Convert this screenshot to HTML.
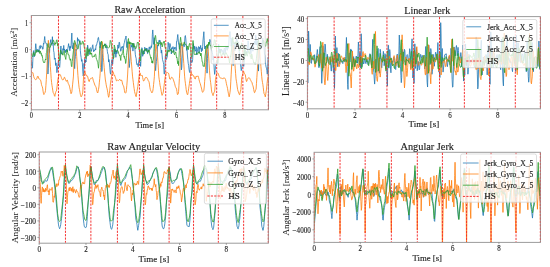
<!DOCTYPE html>
<html><head><meta charset="utf-8"><title>IMU signals</title>
<style>html,body{margin:0;padding:0;background:#fff;width:550px;height:267px;overflow:hidden}
svg{display:block;filter:blur(0.25px)} text{font-family:"Liberation Serif", "DejaVu Serif", serif;fill:#1e1e1e;stroke:#1e1e1e;stroke-width:0.15px}</style></head>
<body><svg width="550" height="267" viewBox="0 0 550 267">
<rect width="550" height="267" fill="#fff"/>
<clipPath id="cTL"><rect x="31.3" y="15.5" width="237.20" height="94.30"/></clipPath>
<g clip-path="url(#cTL)">
<polyline points="31.30,65.29 31.71,62.02 32.11,68.32 32.52,67.76 32.92,57.76 33.33,51.84 33.73,50.59 34.14,56.95 34.55,54.95 34.95,53.85 35.36,48.81 35.76,43.69 36.17,48.07 36.57,50.73 36.98,51.88 37.39,49.23 37.79,49.72 38.20,52.17 38.60,49.75 39.01,52.11 39.41,46.63 39.82,45.81 40.23,45.48 40.63,48.50 41.04,45.75 41.44,46.39 41.85,46.45 42.25,46.69 42.66,49.27 43.06,49.12 43.47,43.35 43.88,44.13 44.28,40.44 44.69,36.50 45.09,40.82 45.50,42.67 45.90,43.42 46.31,43.24 46.72,44.74 47.12,46.35 47.53,59.27 47.93,74.02 48.34,68.15 48.74,54.91 49.15,48.78 49.56,52.60 49.96,43.33 50.37,42.35 50.77,39.67 51.18,43.84 51.58,44.53 51.99,45.41 52.40,36.69 52.80,43.86 53.21,43.27 53.61,50.83 54.02,52.52 54.42,59.35 54.83,58.69 55.24,57.99 55.64,65.43 56.05,62.87 56.45,66.70 56.86,72.65 57.26,70.79 57.67,66.99 58.08,63.33 58.48,59.86 58.89,63.78 59.29,65.86 59.70,67.33 60.10,61.76 60.51,52.03 60.91,45.98 61.31,53.91 61.72,53.10 62.12,53.83 62.53,53.62 62.93,48.58 63.34,50.24 63.74,45.41 64.15,50.55 64.55,48.98 64.96,50.97 65.36,52.68 65.77,50.03 66.17,51.62 66.58,49.12 66.98,50.05 67.39,51.81 67.79,48.50 68.20,46.43 68.60,43.64 69.01,47.13 69.41,46.64 69.81,50.72 70.22,46.18 70.62,48.19 71.03,47.05 71.43,39.01 71.84,33.04 72.24,44.52 72.65,48.93 73.05,46.48 73.46,45.36 73.86,42.88 74.27,61.48 74.67,68.63 75.08,59.53 75.48,56.27 75.89,49.12 76.29,50.54 76.70,49.87 77.10,48.23 77.51,37.65 77.91,41.15 78.31,39.62 78.72,39.21 79.12,40.57 79.53,42.34 79.93,40.61 80.34,50.40 80.74,54.92 81.15,57.49 81.55,61.30 81.96,59.61 82.36,62.79 82.77,71.10 83.17,75.86 83.58,74.24 83.98,63.45 84.39,68.13 84.79,58.89 85.19,62.84 85.60,60.03 86.00,62.03 86.41,57.31 86.81,56.37 87.21,50.72 87.62,45.11 88.02,47.40 88.42,51.21 88.83,52.72 89.23,54.54 89.63,50.08 90.04,47.96 90.44,47.68 90.85,48.59 91.25,51.49 91.65,49.45 92.06,48.98 92.46,45.60 92.86,44.75 93.27,49.99 93.67,51.75 94.07,49.83 94.48,50.66 94.88,50.53 95.29,48.63 95.69,50.02 96.09,45.14 96.50,45.31 96.90,43.74 97.30,42.08 97.71,40.49 98.11,37.71 98.51,37.39 98.92,40.66 99.32,41.70 99.73,45.53 100.13,48.00 100.53,42.41 100.94,51.27 101.34,60.88 101.74,71.58 102.15,69.91 102.55,53.76 102.95,46.14 103.36,46.15 103.76,46.06 104.17,45.33 104.57,45.79 104.97,44.06 105.38,44.65 105.78,43.80 106.18,48.12 106.59,46.68 106.99,48.50 107.39,51.41 107.80,53.99 108.20,54.66 108.61,62.02 109.01,59.56 109.41,63.12 109.82,67.84 110.22,72.71 110.62,74.23 111.03,69.48 111.43,63.24 111.83,59.80 112.24,59.33 112.64,64.22 113.05,59.88 113.46,58.32 113.86,52.27 114.27,48.86 114.67,53.91 115.08,48.94 115.48,52.06 115.89,57.34 116.30,50.40 116.70,53.80 117.11,53.14 117.51,50.00 117.92,44.92 118.32,48.31 118.73,46.47 119.14,42.10 119.54,42.45 119.95,47.04 120.35,48.43 120.76,51.29 121.16,49.94 121.57,46.91 121.97,46.92 122.38,47.61 122.79,46.19 123.19,50.05 123.60,47.32 124.00,43.83 124.41,42.64 124.81,40.22 125.22,38.97 125.63,37.73 126.03,36.00 126.44,43.12 126.84,47.66 127.25,41.73 127.65,42.17 128.06,45.35 128.47,56.85 128.87,60.67 129.28,67.56 129.68,63.54 130.09,57.03 130.49,49.79 130.90,45.01 131.31,45.43 131.71,47.18 132.12,44.76 132.52,43.23 132.93,51.08 133.33,44.43 133.74,43.49 134.15,45.36 134.55,45.61 134.96,49.96 135.36,54.79 135.77,57.08 136.17,58.39 136.58,63.79 136.99,64.71 137.39,63.87 137.80,63.75 138.20,66.72 138.61,61.95 139.01,60.14 139.42,57.72 139.82,62.63 140.23,62.06 140.63,66.38 141.04,58.88 141.44,51.99 141.85,47.70 142.25,48.61 142.66,56.30 143.06,54.66 143.47,50.82 143.87,52.82 144.28,54.03 144.68,47.22 145.09,47.98 145.49,48.76 145.90,51.08 146.30,48.02 146.71,50.66 147.11,48.44 147.51,53.63 147.92,53.31 148.32,49.99 148.73,50.84 149.13,46.83 149.54,47.16 149.94,49.50 150.35,47.65 150.75,48.24 151.16,45.78 151.56,47.51 151.97,43.14 152.37,34.39 152.78,29.94 153.18,36.39 153.59,44.35 153.99,42.46 154.40,37.72 154.80,51.57 155.21,63.78 155.61,70.66 156.02,65.24 156.42,61.60 156.82,56.90 157.23,52.28 157.63,45.12 158.04,46.15 158.44,42.99 158.85,41.00 159.25,39.97 159.66,41.98 160.06,40.42 160.47,46.68 160.87,49.16 161.28,53.14 161.68,50.17 162.09,55.05 162.49,59.53 162.90,60.94 163.30,62.35 163.71,64.37 164.11,74.08 164.52,73.95 164.92,67.40 165.32,55.96 165.73,54.64 166.13,59.69 166.53,59.20 166.93,57.72 167.34,56.83 167.74,50.74 168.14,42.27 168.54,45.34 168.94,47.31 169.34,49.71 169.74,43.54 170.15,43.62 170.55,46.74 170.95,47.73 171.35,54.00 171.75,47.91 172.15,48.85 172.55,47.23 172.96,46.58 173.36,49.55 173.76,52.39 174.16,47.20 174.56,48.86 174.96,47.77 175.36,47.81 175.77,47.43 176.17,50.70 176.57,41.43 176.97,41.57 177.37,37.86 177.77,34.50 178.18,38.81 178.58,44.20 178.98,45.67 179.38,49.10 179.78,47.16 180.18,43.45 180.58,53.86 180.99,57.63 181.39,69.89 181.79,67.31 182.19,58.17 182.59,49.12 182.99,46.30 183.39,45.31 183.80,44.34 184.20,46.75 184.60,42.01 185.00,36.30 185.40,35.55 185.80,38.89 186.20,44.22 186.61,50.34 187.01,48.50 187.41,55.03 187.81,59.22 188.21,63.22 188.61,65.35 189.02,69.21 189.42,71.52 189.82,72.59 190.22,66.81 190.62,56.89 191.02,59.69 191.42,62.58 191.82,62.32 192.23,62.34 192.63,59.71 193.03,50.28 193.43,43.62 193.83,47.81 194.23,49.26 194.63,46.15 195.03,51.37 195.43,50.27 195.83,50.82 196.23,46.78 196.64,54.97 197.04,52.69 197.44,51.39 197.84,48.10 198.24,47.53 198.64,46.49 199.04,52.89 199.44,47.24 199.84,48.60 200.24,48.78 200.64,45.40 201.04,48.59 201.45,51.76 201.85,48.20 202.25,50.60 202.65,46.44 203.05,39.99 203.45,35.93 203.85,31.72 204.25,40.75 204.65,48.89 205.05,48.16 205.45,46.04 205.86,49.04 206.26,52.45 206.66,62.70 207.06,73.17 207.46,58.30 207.86,49.85 208.26,44.93 208.66,44.30 209.06,42.23 209.46,42.42 209.86,39.36 210.26,40.85 210.67,40.93 211.07,43.35 211.47,50.50 211.87,50.23 212.27,52.38 212.67,54.25 213.07,60.09 213.47,55.95 213.87,62.41 214.27,69.92 214.67,74.41 215.08,71.18 215.48,67.03 215.88,65.81 216.28,62.31 216.68,63.04 217.08,60.86 217.48,64.00 217.89,62.48 218.29,53.26 218.69,44.25 219.10,49.29 219.50,52.75 219.90,53.20 220.31,48.94 220.71,52.71 221.11,50.77 221.51,48.96 221.92,51.06 222.32,51.24 222.72,50.57 223.13,54.64 223.53,53.13 223.93,49.91 224.33,48.17 224.74,49.52 225.14,53.44 225.54,49.93 225.95,46.04 226.35,46.42 226.75,48.49 227.15,50.32 227.56,45.92 227.96,47.60 228.36,48.25 228.77,44.79 229.17,36.27 229.57,35.76 229.97,31.56 230.38,37.59 230.78,39.24 231.18,46.18 231.59,44.56 231.99,37.80 232.39,49.21 232.80,62.58 233.20,65.63 233.60,52.66 234.00,42.39 234.41,47.29 234.81,50.92 235.21,47.40 235.62,46.13 236.02,43.56 236.42,38.80 236.82,39.11 237.23,40.13 237.63,46.57 238.03,43.55 238.44,42.08 238.84,47.55 239.24,52.12 239.64,54.61 240.05,53.82 240.45,63.23 240.85,67.18 241.26,70.60 241.66,69.07 242.06,65.90 242.46,60.16 242.87,60.19 243.27,62.45 243.67,66.41 244.07,64.04 244.47,55.68 244.87,48.15 245.27,52.80 245.67,53.08 246.07,51.75 246.47,54.76 246.87,51.50 247.27,52.69 247.67,45.78 248.07,40.92 248.47,42.43 248.88,48.92 249.28,47.97 249.68,49.93 250.08,50.29 250.48,47.76 250.88,53.86 251.28,48.51 251.68,49.79 252.08,46.34 252.48,49.13 252.88,51.26 253.28,48.49 253.68,45.07 254.08,44.03 254.48,41.31 254.88,42.68 255.28,44.51 255.68,35.06 256.08,37.77 256.48,45.10 256.89,43.92 257.29,40.62 257.69,43.19 258.09,58.35 258.49,71.08 258.89,60.41 259.29,58.33 259.69,45.57 260.09,49.08 260.49,49.44 260.89,42.95 261.29,45.48 261.69,48.04 262.09,44.55 262.49,39.70 262.89,38.23 263.29,44.21 263.69,45.38 264.09,47.69 264.49,54.04 264.90,55.44 265.30,59.81 265.70,64.72 266.10,67.12 266.50,68.13 266.90,70.79 267.30,74.20 267.70,66.90 268.10,57.43 268.50,59.52" fill="none" stroke="#1f77b4" stroke-width="0.8" stroke-linejoin="round"/>
<polyline points="31.30,72.78 31.71,72.67 32.11,72.78 32.52,72.63 32.92,72.70 33.33,74.90 33.73,76.60 34.14,77.82 34.55,78.53 34.95,79.26 35.36,79.62 35.76,79.50 36.17,79.44 36.57,79.12 36.98,78.13 37.39,76.55 37.79,75.98 38.20,76.55 38.60,78.15 39.01,78.90 39.41,78.95 39.82,79.51 40.23,79.90 40.63,80.23 41.04,81.95 41.44,84.41 41.85,85.86 42.25,86.66 42.66,88.15 43.06,91.15 43.47,93.53 43.88,94.55 44.28,93.65 44.69,93.15 45.09,92.38 45.50,90.41 45.90,85.40 46.31,79.47 46.72,72.12 47.12,63.84 47.53,55.39 47.93,47.83 48.34,40.34 48.74,44.68 49.15,49.43 49.56,54.77 49.96,60.85 50.37,66.59 50.77,72.18 51.18,78.53 51.58,82.46 51.99,85.38 52.40,87.80 52.80,90.65 53.21,92.67 53.61,93.32 54.02,93.97 54.42,95.61 54.83,96.34 55.24,94.37 55.64,92.36 56.05,91.37 56.45,90.96 56.86,88.09 57.26,84.78 57.67,81.47 58.08,78.25 58.48,76.98 58.89,75.57 59.29,74.42 59.70,74.54 60.10,74.42 60.51,75.10 60.91,76.30 61.31,77.39 61.72,78.61 62.12,79.32 62.53,79.91 62.93,79.94 63.34,79.69 63.74,78.92 64.15,77.44 64.55,77.24 64.96,78.23 65.36,79.29 65.77,80.35 66.17,81.30 66.58,81.20 66.98,80.21 67.39,80.18 67.79,81.74 68.20,83.36 68.60,84.20 69.01,84.87 69.41,86.16 69.81,87.86 70.22,89.69 70.62,91.69 71.03,93.73 71.43,93.14 71.84,91.93 72.24,88.13 72.65,84.20 73.05,80.15 73.46,76.09 73.86,63.04 74.27,51.63 74.67,47.31 75.08,42.86 75.48,45.68 75.89,47.93 76.29,50.66 76.70,56.56 77.10,62.97 77.51,69.14 77.91,75.36 78.31,79.88 78.72,84.23 79.12,87.79 79.53,89.71 79.93,92.19 80.34,94.34 80.74,95.79 81.15,96.83 81.55,96.10 81.96,95.47 82.36,94.05 82.77,92.14 83.17,85.39 83.58,76.06 83.98,74.34 84.39,72.89 84.79,71.32 85.19,72.57 85.60,73.88 86.00,74.75 86.41,75.16 86.81,76.19 87.21,76.11 87.62,76.30 88.02,78.07 88.42,79.68 88.83,81.08 89.23,81.61 89.63,80.03 90.04,79.11 90.44,78.80 90.85,78.30 91.25,78.37 91.65,78.20 92.06,77.66 92.46,77.56 92.86,78.78 93.27,80.41 93.67,81.68 94.07,82.73 94.48,83.99 94.88,85.07 95.29,85.86 95.69,86.51 96.09,87.36 96.50,89.16 96.90,91.11 97.30,92.40 97.71,93.01 98.11,91.60 98.51,89.48 98.92,86.93 99.32,82.79 99.73,78.64 100.13,73.72 100.53,67.59 100.94,59.05 101.34,50.53 101.74,44.56 102.15,41.60 102.55,46.98 102.95,52.48 103.36,57.68 103.76,62.50 104.17,67.32 104.57,71.90 104.97,76.07 105.38,80.01 105.78,82.14 106.18,84.67 106.59,86.94 106.99,88.35 107.39,90.16 107.80,92.72 108.20,95.33 108.61,97.30 109.01,96.26 109.41,93.25 109.82,90.07 110.22,85.74 110.62,82.11 111.03,79.89 111.43,76.88 111.83,75.42 112.24,72.04 112.64,71.15 113.05,71.51 113.46,72.98 113.86,74.33 114.27,75.67 114.67,75.25 115.08,76.59 115.48,77.70 115.89,78.90 116.30,80.67 116.70,80.73 117.11,80.49 117.51,80.02 117.92,80.21 118.32,80.54 118.73,80.35 119.14,80.04 119.54,79.51 119.95,79.33 120.35,80.31 120.76,80.63 121.16,80.06 121.57,80.00 121.97,81.10 122.38,82.89 122.79,84.68 123.19,85.42 123.60,86.12 124.00,87.95 124.41,90.35 124.81,92.59 125.22,93.16 125.63,92.90 126.03,92.51 126.44,89.44 126.84,85.29 127.25,80.04 127.65,74.06 128.06,66.17 128.47,58.94 128.87,49.62 129.28,43.25 129.68,46.98 130.09,49.87 130.49,52.22 130.90,56.84 131.31,61.45 131.71,66.06 132.12,71.19 132.52,76.14 132.93,79.34 133.33,82.53 133.74,85.88 134.15,88.66 134.55,91.49 134.96,93.14 135.36,94.45 135.77,96.03 136.17,96.70 136.58,94.09 136.99,91.52 137.39,88.99 137.80,86.41 138.20,83.11 138.61,79.75 139.01,77.05 139.42,73.86 139.82,73.38 140.23,73.04 140.63,75.56 141.04,75.46 141.44,75.41 141.85,75.00 142.25,75.55 142.66,77.57 143.06,79.48 143.47,81.00 143.87,80.72 144.28,80.47 144.68,79.46 145.09,77.97 145.49,77.49 145.90,77.60 146.30,77.49 146.71,77.44 147.11,78.12 147.51,78.85 147.92,79.74 148.32,80.83 148.73,81.27 149.13,82.30 149.54,84.86 149.94,87.72 150.35,89.58 150.75,90.70 151.16,91.38 151.56,92.41 151.97,92.93 152.37,92.16 152.78,91.22 153.18,88.40 153.59,84.54 153.99,80.67 154.40,76.30 154.80,65.43 155.21,54.68 155.61,48.13 156.02,43.94 156.42,47.02 156.82,49.60 157.23,52.06 157.63,57.76 158.04,63.75 158.44,70.27 158.85,76.87 159.25,79.69 159.66,82.51 160.06,85.26 160.47,87.27 160.87,89.19 161.28,91.68 161.68,93.94 162.09,95.38 162.49,94.60 162.90,93.46 163.30,92.08 163.71,88.78 164.11,85.31 164.52,82.20 164.92,78.62 165.32,76.05 165.73,75.78 166.13,72.88 166.53,72.62 166.93,72.90 167.34,72.68 167.74,72.74 168.14,73.14 168.54,73.20 168.94,74.84 169.34,77.00 169.74,79.04 170.15,79.37 170.55,79.29 170.95,78.28 171.35,77.38 171.75,77.24 172.15,77.40 172.55,77.90 172.96,78.70 173.36,79.70 173.76,80.95 174.16,82.14 174.56,83.36 174.96,85.08 175.36,86.62 175.77,87.52 176.17,88.02 176.57,89.20 176.97,91.60 177.37,94.49 177.77,94.52 178.18,93.98 178.58,91.65 178.98,85.35 179.38,78.58 179.78,72.12 180.18,65.26 180.58,57.67 180.99,50.13 181.39,43.34 181.79,42.72 182.19,45.70 182.59,48.44 182.99,51.99 183.39,57.95 183.80,63.68 184.20,69.78 184.60,76.16 185.00,80.30 185.40,83.27 185.80,86.29 186.20,89.61 186.61,92.44 187.01,93.62 187.41,94.78 187.81,94.39 188.21,91.59 188.61,88.76 189.02,86.07 189.42,83.50 189.82,80.62 190.22,78.06 190.62,76.16 191.02,72.21 191.42,73.27 191.82,73.66 192.23,74.18 192.63,74.96 193.03,75.79 193.43,75.87 193.83,75.88 194.23,77.16 194.63,78.42 195.03,79.02 195.43,78.86 195.83,76.97 196.23,76.02 196.64,76.38 197.04,76.89 197.44,76.22 197.84,75.84 198.24,76.27 198.64,77.68 199.04,79.57 199.44,81.22 199.84,82.63 200.24,83.59 200.64,85.02 201.04,86.64 201.45,88.04 201.85,89.90 202.25,91.66 202.65,92.36 203.05,91.74 203.45,91.06 203.85,90.35 204.25,87.06 204.65,81.40 205.05,76.66 205.45,69.57 205.86,61.56 206.26,54.25 206.66,49.82 207.06,46.59 207.46,45.17 207.86,48.32 208.26,51.45 208.66,56.90 209.06,63.47 209.46,70.16 209.86,75.73 210.26,79.72 210.67,82.67 211.07,86.09 211.47,89.92 211.87,92.73 212.27,93.36 212.67,94.74 213.07,95.64 213.47,94.17 213.87,92.81 214.27,92.03 214.67,91.31 215.08,86.84 215.48,79.43 215.88,77.12 216.28,75.38 216.68,73.61 217.08,73.02 217.48,72.89 217.89,73.20 218.29,73.40 218.69,74.90 219.10,76.31 219.50,76.77 219.90,77.47 220.31,78.05 220.71,78.18 221.11,78.02 221.51,78.29 221.92,78.49 222.32,78.62 222.72,78.61 223.13,78.80 223.53,78.36 223.93,77.69 224.33,78.10 224.74,78.39 225.14,78.47 225.54,79.53 225.95,81.25 226.35,83.42 226.75,85.32 227.15,86.68 227.56,88.48 227.96,91.10 228.36,93.30 228.77,94.94 229.17,96.84 229.57,94.85 229.97,92.57 230.38,89.10 230.78,81.82 231.18,74.22 231.59,66.99 231.99,60.10 232.39,53.30 232.80,48.79 233.20,45.28 233.60,45.93 234.00,51.39 234.41,56.83 234.81,62.36 235.21,68.18 235.62,73.63 236.02,78.81 236.42,81.26 236.82,83.76 237.23,86.95 237.63,89.51 238.03,91.08 238.44,92.05 238.84,93.21 239.24,94.45 239.64,94.80 240.05,92.88 240.45,91.23 240.85,89.62 241.26,84.71 241.66,77.44 242.06,76.37 242.46,75.33 242.87,73.79 243.27,72.20 243.67,71.29 244.07,72.59 244.47,73.92 244.87,74.40 245.27,74.70 245.67,77.13 246.07,79.89 246.47,81.54 246.87,81.22 247.27,79.37 247.67,78.61 248.07,78.38 248.47,78.01 248.88,77.98 249.28,77.76 249.68,78.19 250.08,79.29 250.48,79.94 250.88,80.63 251.28,81.50 251.68,82.03 252.08,82.82 252.48,84.73 252.88,85.64 253.28,86.98 253.68,89.30 254.08,91.42 254.48,92.71 254.88,92.34 255.28,90.89 255.68,89.82 256.08,89.13 256.48,83.37 256.89,77.32 257.29,71.19 257.69,64.77 258.09,58.08 258.49,50.74 258.89,42.33 259.29,45.91 259.69,51.02 260.09,56.12 260.49,61.45 260.89,66.47 261.29,71.30 261.69,76.27 262.09,79.96 262.49,82.49 262.89,84.65 263.29,87.73 263.69,91.52 264.09,93.63 264.49,94.14 264.90,95.46 265.30,96.84 265.70,94.47 266.10,91.74 266.50,89.08 266.90,85.15 267.30,81.28 267.70,78.46 268.10,76.69 268.50,72.27" fill="none" stroke="#ff7f0e" stroke-width="0.8" stroke-linejoin="round"/>
<polyline points="31.30,52.95 31.71,53.42 32.11,55.92 32.52,56.65 32.92,55.84 33.33,54.01 33.73,52.33 34.14,53.69 34.55,55.30 34.95,55.77 35.36,52.94 35.76,51.48 36.17,49.90 36.57,52.43 36.98,51.33 37.39,51.09 37.79,50.50 38.20,51.31 38.60,51.67 39.01,50.48 39.41,51.69 39.82,53.54 40.23,50.94 40.63,51.76 41.04,54.22 41.44,53.51 41.85,56.12 42.25,55.60 42.66,58.56 43.06,60.91 43.47,61.93 43.88,62.82 44.28,62.17 44.69,62.59 45.09,60.43 45.50,59.12 45.90,59.98 46.31,53.32 46.72,52.79 47.12,48.06 47.53,44.56 47.93,43.55 48.34,45.50 48.74,46.89 49.15,47.92 49.56,48.00 49.96,47.71 50.37,47.32 50.77,44.34 51.18,44.64 51.58,42.94 51.99,43.47 52.40,42.46 52.80,41.77 53.21,40.07 53.61,40.26 54.02,42.13 54.42,44.46 54.83,45.33 55.24,42.73 55.64,44.05 56.05,43.30 56.45,40.25 56.86,39.74 57.26,41.67 57.67,45.76 58.08,43.79 58.48,51.52 58.89,55.88 59.29,61.10 59.70,60.05 60.10,54.35 60.51,50.08 60.91,50.38 61.31,51.85 61.72,53.73 62.12,54.55 62.53,53.83 62.93,55.19 63.34,52.73 63.74,52.19 64.15,50.80 64.55,53.87 64.96,56.73 65.36,57.56 65.77,59.43 66.17,54.97 66.58,52.62 66.98,50.02 67.39,50.95 67.79,52.83 68.20,54.77 68.60,54.78 69.01,54.79 69.41,58.54 69.81,59.04 70.22,60.30 70.62,58.77 71.03,61.92 71.43,66.21 71.84,66.77 72.24,61.64 72.65,58.13 73.05,54.09 73.46,50.32 73.86,45.38 74.27,42.03 74.67,40.45 75.08,41.85 75.48,43.35 75.89,44.29 76.29,45.66 76.70,45.45 77.10,47.75 77.51,48.51 77.91,49.08 78.31,48.61 78.72,44.38 79.12,44.62 79.53,41.11 79.93,41.33 80.34,44.26 80.74,43.89 81.15,43.53 81.55,44.19 81.96,44.23 82.36,41.27 82.77,41.45 83.17,41.59 83.58,44.05 83.98,45.03 84.39,48.08 84.79,48.36 85.19,52.41 85.60,57.98 86.00,58.51 86.41,55.94 86.81,51.09 87.21,47.47 87.62,55.20 88.02,56.03 88.42,52.85 88.83,49.37 89.23,51.40 89.63,49.86 90.04,49.48 90.44,54.22 90.85,52.68 91.25,54.26 91.65,53.28 92.06,55.89 92.46,57.20 92.86,56.91 93.27,56.61 93.67,56.74 94.07,55.77 94.48,56.53 94.88,54.51 95.29,54.26 95.69,54.21 96.09,57.23 96.50,59.35 96.90,59.74 97.30,61.30 97.71,62.30 98.11,64.89 98.51,68.23 98.92,63.58 99.32,55.89 99.73,48.05 100.13,45.99 100.53,45.30 100.94,44.72 101.34,41.06 101.74,42.89 102.15,44.42 102.55,46.88 102.95,48.66 103.36,45.77 103.76,45.22 104.17,45.90 104.57,43.90 104.97,43.93 105.38,47.58 105.78,45.30 106.18,45.72 106.59,45.79 106.99,45.43 107.39,47.53 107.80,47.72 108.20,48.02 108.61,47.87 109.01,47.26 109.41,47.14 109.82,44.56 110.22,40.47 110.62,41.18 111.03,41.51 111.43,44.71 111.83,49.20 112.24,51.80 112.64,54.02 113.05,57.39 113.46,58.60 113.86,57.42 114.27,45.04 114.67,46.51 115.08,48.16 115.48,51.67 115.89,50.87 116.30,51.13 116.70,51.29 117.11,51.02 117.51,50.37 117.92,50.77 118.32,51.99 118.73,53.79 119.14,54.48 119.54,55.79 119.95,55.22 120.35,57.64 120.76,60.53 121.16,55.10 121.57,54.81 121.97,55.00 122.38,52.52 122.79,52.04 123.19,49.88 123.60,53.22 124.00,57.23 124.41,56.36 124.81,58.99 125.22,59.05 125.63,63.49 126.03,61.75 126.44,55.56 126.84,52.27 127.25,49.23 127.65,47.19 128.06,40.02 128.47,38.50 128.87,43.61 129.28,41.64 129.68,44.01 130.09,41.96 130.49,44.08 130.90,44.65 131.31,42.80 131.71,43.17 132.12,44.33 132.52,43.52 132.93,45.62 133.33,47.34 133.74,43.35 134.15,46.06 134.55,46.86 134.96,46.19 135.36,48.69 135.77,48.80 136.17,47.84 136.58,46.98 136.99,44.69 137.39,42.17 137.80,42.59 138.20,42.12 138.61,43.90 139.01,49.53 139.42,49.05 139.82,58.15 140.23,61.06 140.63,55.30 141.04,49.95 141.44,48.87 141.85,49.50 142.25,52.29 142.66,52.80 143.06,54.33 143.47,54.11 143.87,51.00 144.28,50.23 144.68,51.13 145.09,48.82 145.49,49.94 145.90,49.64 146.30,49.16 146.71,51.29 147.11,52.09 147.51,52.47 147.92,50.82 148.32,50.41 148.73,51.94 149.13,49.79 149.54,53.43 149.94,54.94 150.35,56.17 150.75,58.34 151.16,57.29 151.56,60.61 151.97,63.03 152.37,60.86 152.78,63.24 153.18,60.14 153.59,58.09 153.99,48.64 154.40,44.08 154.80,40.01 155.21,35.56 155.61,35.50 156.02,39.72 156.42,41.26 156.82,43.71 157.23,43.71 157.63,42.36 158.04,43.76 158.44,45.51 158.85,43.23 159.25,43.32 159.66,43.58 160.06,41.75 160.47,42.39 160.87,44.66 161.28,44.76 161.68,42.48 162.09,47.01 162.49,46.25 162.90,44.02 163.30,42.34 163.71,42.73 164.11,41.01 164.52,43.80 164.92,46.78 165.32,48.23 165.73,47.52 166.13,51.39 166.53,56.20 166.93,54.64 167.34,53.19 167.74,50.55 168.14,50.53 168.54,49.89 168.94,52.10 169.34,50.38 169.74,50.32 170.15,51.04 170.55,49.28 170.95,49.78 171.35,50.67 171.75,50.42 172.15,52.71 172.55,51.41 172.96,50.82 173.36,51.05 173.76,50.70 174.16,53.89 174.56,54.81 174.96,52.94 175.36,52.71 175.77,51.86 176.17,54.94 176.57,58.00 176.97,57.47 177.37,61.01 177.77,63.79 178.18,61.26 178.58,65.62 178.98,57.91 179.38,50.20 179.78,42.85 180.18,41.15 180.58,37.27 180.99,40.31 181.39,44.98 181.79,45.60 182.19,45.10 182.59,45.29 182.99,44.72 183.39,43.88 183.80,44.16 184.20,41.96 184.60,43.20 185.00,44.02 185.40,44.53 185.80,44.21 186.20,45.27 186.61,46.04 187.01,48.87 187.41,47.34 187.81,45.96 188.21,49.72 188.61,48.14 189.02,45.36 189.42,43.79 189.82,43.27 190.22,46.58 190.62,46.99 191.02,54.75 191.42,57.32 191.82,56.95 192.23,52.90 192.63,46.45 193.03,40.47 193.43,45.89 193.83,49.36 194.23,54.16 194.63,54.62 195.03,54.87 195.43,54.16 195.83,54.50 196.23,53.72 196.64,52.96 197.04,53.77 197.44,54.24 197.84,54.23 198.24,52.20 198.64,52.53 199.04,51.63 199.44,51.94 199.84,53.72 200.24,53.15 200.64,55.97 201.04,53.11 201.45,55.63 201.85,59.34 202.25,62.07 202.65,62.11 203.05,66.12 203.45,66.32 203.85,65.74 204.25,66.55 204.65,62.25 205.05,55.90 205.45,53.12 205.86,48.98 206.26,47.30 206.66,45.13 207.06,45.36 207.46,48.40 207.86,44.27 208.26,45.58 208.66,42.17 209.06,44.48 209.46,42.11 209.86,44.20 210.26,45.83 210.67,45.17 211.07,45.96 211.47,49.39 211.87,46.39 212.27,47.72 212.67,46.12 213.07,44.91 213.47,44.13 213.87,45.31 214.27,40.09 214.67,39.73 215.08,40.01 215.48,42.77 215.88,45.79 216.28,47.22 216.68,52.69 217.08,56.92 217.48,61.27 217.89,62.95 218.29,55.97 218.69,53.70 219.10,51.34 219.50,49.02 219.90,49.94 220.31,51.54 220.71,53.66 221.11,55.98 221.51,56.18 221.92,55.03 222.32,54.33 222.72,53.36 223.13,52.93 223.53,53.20 223.93,53.17 224.33,54.65 224.74,55.75 225.14,53.53 225.54,53.58 225.95,53.20 226.35,52.82 226.75,54.22 227.15,55.31 227.56,55.19 227.96,56.14 228.36,58.19 228.77,58.35 229.17,60.66 229.57,63.07 229.97,59.85 230.38,55.86 230.78,56.75 231.18,52.90 231.59,49.05 231.99,43.79 232.39,40.86 232.80,37.23 233.20,40.56 233.60,42.65 234.00,43.80 234.41,42.82 234.81,43.43 235.21,43.56 235.62,41.93 236.02,44.21 236.42,44.50 236.82,41.99 237.23,41.54 237.63,41.27 238.03,43.65 238.44,43.56 238.84,45.99 239.24,47.20 239.64,51.00 240.05,48.53 240.45,48.00 240.85,48.51 241.26,46.10 241.66,42.89 242.06,44.06 242.46,46.99 242.87,44.50 243.27,56.13 243.67,61.87 244.07,58.80 244.47,52.66 244.87,46.10 245.27,51.45 245.67,56.20 246.07,53.26 246.47,51.76 246.87,54.74 247.27,56.19 247.67,54.12 248.07,53.08 248.47,51.61 248.88,50.50 249.28,51.82 249.68,53.93 250.08,54.48 250.48,57.03 250.88,57.51 251.28,58.92 251.68,54.03 252.08,55.07 252.48,57.63 252.88,59.42 253.28,60.30 253.68,63.01 254.08,63.40 254.48,63.60 254.88,62.21 255.28,64.23 255.68,63.13 256.08,61.24 256.48,58.27 256.89,54.14 257.29,50.85 257.69,45.21 258.09,42.80 258.49,40.14 258.89,43.56 259.29,47.03 259.69,49.95 260.09,49.12 260.49,46.32 260.89,45.43 261.29,46.91 261.69,46.68 262.09,46.59 262.49,45.28 262.89,43.84 263.29,40.32 263.69,40.74 264.09,43.01 264.49,44.46 264.90,44.73 265.30,46.46 265.70,46.24 266.10,41.99 266.50,42.16 266.90,41.13 267.30,38.52 267.70,41.24 268.10,44.80 268.50,51.06" fill="none" stroke="#2ca02c" stroke-width="0.8" stroke-linejoin="round"/>
</g>
<rect x="31.3" y="15.5" width="237.20" height="94.30" fill="none" stroke="#9c9c9c" stroke-width="1.0"/>
<line x1="31.50" y1="16.00" x2="31.50" y2="109.30" stroke="#f42a2a" stroke-width="1.0" stroke-dasharray="2.2,1.2" opacity="0.35"/>
<line x1="58.48" y1="16.00" x2="58.48" y2="109.30" stroke="#f42a2a" stroke-width="1.0" stroke-dasharray="2.2,1.2" opacity="0.95"/>
<line x1="84.79" y1="16.00" x2="84.79" y2="109.30" stroke="#f42a2a" stroke-width="1.0" stroke-dasharray="2.2,1.2" opacity="0.95"/>
<line x1="112.24" y1="16.00" x2="112.24" y2="109.30" stroke="#f42a2a" stroke-width="1.0" stroke-dasharray="2.2,1.2" opacity="0.95"/>
<line x1="139.42" y1="16.00" x2="139.42" y2="109.30" stroke="#f42a2a" stroke-width="1.0" stroke-dasharray="2.2,1.2" opacity="0.95"/>
<line x1="165.73" y1="16.00" x2="165.73" y2="109.30" stroke="#f42a2a" stroke-width="1.0" stroke-dasharray="2.2,1.2" opacity="0.95"/>
<line x1="191.02" y1="16.00" x2="191.02" y2="109.30" stroke="#f42a2a" stroke-width="1.0" stroke-dasharray="2.2,1.2" opacity="0.95"/>
<line x1="216.68" y1="16.00" x2="216.68" y2="109.30" stroke="#f42a2a" stroke-width="1.0" stroke-dasharray="2.2,1.2" opacity="0.95"/>
<line x1="242.87" y1="16.00" x2="242.87" y2="109.30" stroke="#f42a2a" stroke-width="1.0" stroke-dasharray="2.2,1.2" opacity="0.95"/>
<line x1="268.20" y1="16.00" x2="268.20" y2="109.30" stroke="#f42a2a" stroke-width="1.0" stroke-dasharray="2.2,1.2" opacity="0.55"/>
<line x1="29.50" y1="22.70" x2="31.30" y2="22.70" stroke="#666" stroke-width="0.55"/>
<text x="24.95" y="25.60" font-size="7.3" text-anchor="start" textLength="3.15" lengthAdjust="spacingAndGlyphs">1</text>
<line x1="29.50" y1="49.60" x2="31.30" y2="49.60" stroke="#666" stroke-width="0.55"/>
<text x="24.95" y="52.50" font-size="7.3" text-anchor="start" textLength="3.15" lengthAdjust="spacingAndGlyphs">0</text>
<line x1="29.50" y1="76.50" x2="31.30" y2="76.50" stroke="#666" stroke-width="0.55"/>
<text x="20.95" y="79.40" font-size="7.3" text-anchor="start" textLength="7.15" lengthAdjust="spacingAndGlyphs">−1</text>
<line x1="29.50" y1="103.40" x2="31.30" y2="103.40" stroke="#666" stroke-width="0.55"/>
<text x="20.95" y="106.30" font-size="7.3" text-anchor="start" textLength="7.15" lengthAdjust="spacingAndGlyphs">−2</text>
<line x1="31.30" y1="109.80" x2="31.30" y2="111.60" stroke="#666" stroke-width="0.55"/>
<text x="29.73" y="118.40" font-size="7.3" text-anchor="start" textLength="3.15" lengthAdjust="spacingAndGlyphs">0</text>
<line x1="79.71" y1="109.80" x2="79.71" y2="111.60" stroke="#666" stroke-width="0.55"/>
<text x="78.13" y="118.40" font-size="7.3" text-anchor="start" textLength="3.15" lengthAdjust="spacingAndGlyphs">2</text>
<line x1="128.12" y1="109.80" x2="128.12" y2="111.60" stroke="#666" stroke-width="0.55"/>
<text x="126.54" y="118.40" font-size="7.3" text-anchor="start" textLength="3.15" lengthAdjust="spacingAndGlyphs">4</text>
<line x1="176.52" y1="109.80" x2="176.52" y2="111.60" stroke="#666" stroke-width="0.55"/>
<text x="174.95" y="118.40" font-size="7.3" text-anchor="start" textLength="3.15" lengthAdjust="spacingAndGlyphs">6</text>
<line x1="224.93" y1="109.80" x2="224.93" y2="111.60" stroke="#666" stroke-width="0.55"/>
<text x="223.36" y="118.40" font-size="7.3" text-anchor="start" textLength="3.15" lengthAdjust="spacingAndGlyphs">8</text>
<text x="114.5" y="13.1" font-size="10" text-anchor="start" textLength="70.6" lengthAdjust="spacingAndGlyphs">Raw Acceleration</text>
<text x="135.4" y="128.0" font-size="9.0" text-anchor="start" textLength="28.6" lengthAdjust="spacingAndGlyphs">Time [s]</text>
<text transform="translate(17.4,96.5) rotate(-90)" font-size="9.0" textLength="68.8" lengthAdjust="spacingAndGlyphs" style="stroke-width:0.05px">Acceleration [m/s<tspan font-size="70%" dy="-3">2</tspan><tspan dy="3">]</tspan></text>
<rect x="211.2" y="18.9" width="54.00" height="45.10" rx="1.8" fill="#fff" fill-opacity="0.8" stroke="#d0d0d0" stroke-width="0.7"/>
<line x1="213.9" y1="25.3" x2="228.7" y2="25.3" stroke="#1f77b4" stroke-width="0.9" opacity="0.85"/>
<text x="234.8" y="28.20" font-size="7.2" text-anchor="start" textLength="27" lengthAdjust="spacingAndGlyphs">Acc_X_5</text>
<line x1="213.9" y1="35.9" x2="228.7" y2="35.9" stroke="#ff7f0e" stroke-width="0.9" opacity="0.85"/>
<text x="234.8" y="38.80" font-size="7.2" text-anchor="start" textLength="27" lengthAdjust="spacingAndGlyphs">Acc_Y_5</text>
<line x1="213.9" y1="46.5" x2="228.7" y2="46.5" stroke="#2ca02c" stroke-width="0.9" opacity="0.85"/>
<text x="234.8" y="49.40" font-size="7.2" text-anchor="start" textLength="27" lengthAdjust="spacingAndGlyphs">Acc_Z_5</text>
<line x1="213.9" y1="57.2" x2="228.7" y2="57.2" stroke="#f42a2a" stroke-width="1.0" stroke-dasharray="2.2,1.2" opacity="0.95"/>
<text x="234.8" y="60.10" font-size="7.2" text-anchor="start" textLength="10" lengthAdjust="spacingAndGlyphs">HS</text>
<clipPath id="cTR"><rect x="307.4" y="16.6" width="233.10" height="92.20"/></clipPath>
<g clip-path="url(#cTR)">
<polyline points="307.40,66.76 307.80,83.03 308.20,55.25 308.60,31.09 308.99,42.25 309.39,60.67 309.79,53.74 310.19,44.43 310.59,51.53 310.99,63.02 311.39,63.43 311.79,59.83 312.18,57.98 312.58,58.27 312.98,58.71 313.38,60.26 313.78,59.70 314.18,57.29 314.58,54.69 314.97,58.39 315.37,62.00 315.77,62.97 316.17,62.33 316.57,57.37 316.97,52.50 317.37,49.49 317.77,54.23 318.16,59.77 318.56,65.15 318.96,67.78 319.36,59.33 319.76,48.57 320.16,46.50 320.56,58.07 320.96,63.20 321.35,69.91 321.75,83.30 322.15,75.02 322.55,60.97 322.95,45.76 323.35,53.37 323.75,68.11 324.14,60.90 324.54,52.86 324.94,43.97 325.34,44.75 325.74,52.79 326.14,59.79 326.54,61.53 326.94,57.13 327.33,54.25 327.73,57.69 328.13,61.41 328.53,63.50 328.93,63.11 329.33,60.36 329.73,57.44 330.12,56.61 330.52,60.84 330.92,68.10 331.32,71.11 331.72,64.37 332.12,62.27 332.52,58.07 332.92,59.18 333.31,70.78 333.71,72.59 334.11,67.21 334.51,88.40 334.91,68.36 335.30,35.99 335.70,47.57 336.10,62.80 336.50,54.29 336.90,47.62 337.29,54.05 337.69,66.74 338.09,59.52 338.49,53.42 338.88,54.99 339.28,60.36 339.68,64.30 340.08,61.99 340.48,58.87 340.87,59.06 341.27,60.05 341.67,61.36 342.07,61.88 342.46,62.97 342.86,63.64 343.26,60.79 343.66,57.91 344.06,60.42 344.45,61.73 344.85,60.00 345.25,60.66 345.65,56.46 346.04,48.19 346.44,37.44 346.84,51.18 347.24,71.74 347.64,84.62 348.03,89.43 348.43,72.15 348.83,55.63 349.23,52.88 349.62,60.90 350.02,61.82 350.42,51.60 350.82,48.94 351.22,51.14 351.61,50.02 352.01,53.21 352.41,64.43 352.81,66.78 353.20,60.51 353.60,56.59 354.00,59.60 354.40,63.11 354.80,66.06 355.19,64.60 355.59,60.09 355.99,56.71 356.39,56.00 356.78,58.20 357.18,60.16 357.58,63.23 357.98,53.89 358.38,41.98 358.77,46.91 359.17,60.61 359.57,61.82 359.97,52.67 360.36,67.92 360.76,52.88 361.16,33.74 361.55,41.46 361.95,66.83 362.35,62.22 362.74,57.88 363.14,59.48 363.54,64.04 363.93,63.49 364.33,60.68 364.73,58.77 365.12,58.17 365.52,62.88 365.92,63.66 366.31,60.82 366.71,59.77 367.11,58.95 367.50,61.92 367.90,64.34 368.30,64.82 368.69,63.60 369.09,58.59 369.49,55.08 369.88,53.73 370.28,54.93 370.68,58.91 371.07,62.26 371.47,65.24 371.87,63.69 372.26,53.12 372.66,39.39 373.06,55.04 373.45,69.01 373.85,72.33 374.25,79.08 374.64,84.08 375.04,78.18 375.44,68.63 375.83,59.12 376.23,65.49 376.63,72.36 377.02,63.26 377.42,53.75 377.82,49.30 378.21,48.46 378.61,57.38 379.01,66.20 379.40,73.22 379.80,61.53 380.20,49.28 380.59,52.22 380.99,58.96 381.39,66.04 381.78,67.78 382.18,63.19 382.58,59.11 382.97,56.07 383.37,51.32 383.77,55.25 384.16,65.71 384.56,63.05 384.96,53.67 385.35,54.66 385.75,62.30 386.15,68.51 386.54,67.87 386.94,73.04 387.34,86.10 387.74,64.81 388.14,45.41 388.53,45.23 388.93,68.15 389.33,57.83 389.73,49.57 390.13,53.12 390.53,69.09 390.93,72.80 391.32,65.22 391.72,60.95 392.12,61.16 392.52,62.45 392.92,61.52 393.32,58.62 393.72,57.28 394.12,57.35 394.51,60.59 394.91,63.61 395.31,68.33 395.71,69.55 396.11,64.34 396.51,58.80 396.91,55.40 397.31,54.10 397.70,59.88 398.10,66.92 398.50,66.72 398.90,51.88 399.30,35.02 399.70,45.78 400.10,58.43 400.49,66.74 400.89,75.39 401.29,82.67 401.69,77.36 402.09,53.52 402.49,49.34 402.89,55.69 403.29,63.76 403.68,61.47 404.08,56.38 404.48,49.35 404.88,50.73 405.28,60.27 405.68,62.88 406.08,65.29 406.47,60.46 406.87,55.00 407.27,54.57 407.67,55.49 408.07,59.31 408.47,62.27 408.87,59.86 409.27,54.79 409.66,48.69 410.06,50.66 410.46,62.03 410.86,68.61 411.26,59.84 411.66,48.01 412.06,38.81 412.45,56.05 412.85,77.97 413.25,73.57 413.65,68.98 414.05,83.35 414.45,59.95 414.84,43.83 415.24,58.39 415.64,68.51 416.04,59.23 416.44,47.58 416.83,54.34 417.23,70.70 417.63,67.29 418.03,61.27 418.42,62.03 418.82,67.19 419.22,69.88 419.62,68.99 420.02,61.56 420.41,54.58 420.81,54.43 421.21,57.16 421.61,57.68 422.00,56.47 422.40,55.42 422.80,57.63 423.20,61.01 423.60,61.02 423.99,61.63 424.39,64.63 424.79,68.91 425.19,58.84 425.58,47.00 425.98,46.33 426.38,59.42 426.78,72.95 427.17,82.64 427.57,87.03 427.97,70.76 428.37,51.85 428.77,44.94 429.16,50.40 429.56,58.17 429.96,64.72 430.36,60.47 430.75,48.54 431.15,51.25 431.55,61.85 431.95,74.29 432.35,71.57 432.74,63.71 433.14,54.29 433.54,56.89 433.94,63.40 434.33,66.26 434.73,61.06 435.13,56.68 435.53,52.18 435.93,52.67 436.32,58.06 436.72,58.14 437.12,59.84 437.52,50.20 437.91,42.55 438.31,58.64 438.71,71.94 439.11,71.84 439.51,72.43 439.90,77.55 440.29,52.77 440.69,22.66 441.08,35.05 441.48,64.16 441.87,55.40 442.27,48.50 442.66,64.02 443.06,72.12 443.45,69.06 443.85,64.71 444.24,58.05 444.63,54.89 445.03,54.36 445.42,54.20 445.82,54.67 446.21,53.74 446.61,59.69 447.00,64.71 447.40,66.66 447.79,63.25 448.19,60.41 448.58,60.01 448.97,56.25 449.37,56.51 449.76,59.27 450.16,64.83 450.55,60.47 450.95,48.37 451.34,50.66 451.74,66.35 452.13,79.46 452.53,87.22 452.92,86.73 453.31,73.83 453.71,59.94 454.10,46.93 454.50,51.08 454.89,56.10 455.29,55.07 455.68,51.07 456.08,47.20 456.47,45.51 456.87,50.18 457.26,55.73 457.65,50.23 458.05,47.34 458.44,50.59 458.84,56.00 459.23,59.68 459.63,60.37 460.02,59.39 460.42,56.63 460.81,52.58 461.21,56.88 461.60,66.86 461.99,64.48 462.39,53.87 462.78,45.01 463.18,61.52 463.57,81.06 463.97,72.40 464.36,62.83 464.76,75.32 465.15,59.04 465.54,43.99 465.94,54.67 466.33,66.39 466.73,59.87 467.12,51.45 467.51,60.90 467.91,74.18 468.30,69.63 468.70,62.52 469.09,54.52 469.48,57.27 469.88,63.27 470.27,61.60 470.67,59.90 471.06,61.46 471.45,61.27 471.85,61.15 472.24,62.28 472.63,60.89 473.03,58.48 473.42,59.73 473.82,62.74 474.21,66.58 474.60,66.58 475.00,66.78 475.39,56.08 475.79,47.08 476.18,36.94 476.57,45.00 476.97,62.43 477.36,74.95 477.76,88.92 478.15,86.41 478.54,69.46 478.94,54.47 479.33,61.63 479.73,66.19 480.12,61.79 480.51,54.27 480.91,46.08 481.30,40.22 481.70,57.01 482.09,74.98 482.48,71.68 482.88,62.49 483.27,57.01 483.67,58.56 484.06,62.45 484.45,63.83 484.85,60.27 485.24,58.75 485.64,57.60 486.03,54.54 486.42,55.93 486.82,66.14 487.21,74.86 487.61,59.42 488.00,44.77 488.39,54.80 488.79,64.66 489.18,63.77 489.57,60.72 489.97,84.40 490.37,62.44 490.76,31.81 491.16,40.60 491.55,55.27 491.95,58.53 492.35,48.01 492.74,59.70 493.14,67.27 493.53,60.36 493.93,55.85 494.33,53.44 494.72,56.06 495.12,60.77 495.51,62.14 495.91,59.75 496.31,58.20 496.70,55.39 497.10,54.51 497.49,57.56 497.89,62.56 498.29,62.83 498.68,58.46 499.08,54.51 499.47,56.03 499.87,62.08 500.27,67.24 500.66,69.67 501.06,58.30 501.45,39.03 501.85,40.09 502.24,57.34 502.64,71.01 503.04,81.95 503.43,85.88 503.83,68.28 504.22,49.40 504.62,44.56 505.02,54.58 505.41,64.73 505.81,62.85 506.20,58.78 506.60,47.91 507.00,34.85 507.39,43.35 507.79,58.48 508.18,60.45 508.58,57.61 508.98,57.86 509.37,60.00 509.77,62.04 510.16,62.82 510.56,60.94 510.96,61.90 511.35,62.98 511.75,63.53 512.14,69.56 512.54,71.68 512.94,57.97 513.33,47.14 513.73,36.51 514.12,45.91 514.52,61.00 514.91,64.34 515.31,57.32 515.70,71.45 516.10,56.57 516.49,35.25 516.89,54.50 517.28,69.21 517.67,54.51 518.07,42.84 518.46,53.17 518.85,61.62 519.25,56.72 519.64,49.62 520.03,51.33 520.43,56.57 520.82,62.65 521.21,62.02 521.61,57.66 522.00,53.70 522.40,54.05 522.79,54.69 523.18,58.73 523.58,60.86 523.97,56.59 524.36,52.71 524.76,51.96 525.15,54.94 525.54,61.78 525.94,68.54 526.33,71.74 526.72,56.17 527.12,41.73 527.51,48.12 527.91,67.53 528.30,76.35 528.69,82.21 529.09,78.72 529.48,59.25 529.87,49.88 530.27,61.69 530.66,68.33 531.05,60.59 531.45,48.86 531.84,44.23 532.23,42.51 532.63,54.86 533.02,66.09 533.42,71.67 533.81,62.91 534.20,56.95 534.60,59.38 534.99,64.47 535.38,67.47 535.78,64.46 536.17,63.85 536.56,61.99 536.96,56.92 537.35,61.13 537.74,65.62 538.14,66.37 538.53,54.06 538.93,41.10 539.32,53.22 539.71,69.25 540.11,62.88 540.50,64.31" fill="none" stroke="#1f77b4" stroke-width="0.8" stroke-linejoin="round"/>
<polyline points="307.40,66.43 307.80,65.00 308.20,62.44 308.60,61.84 308.99,61.95 309.39,64.67 309.79,61.41 310.19,55.81 310.59,51.82 310.99,52.47 311.39,53.88 311.79,56.62 312.18,58.44 312.58,59.16 312.98,59.66 313.38,58.92 313.78,58.25 314.18,60.28 314.58,64.47 314.97,67.20 315.37,66.38 315.77,63.39 316.17,61.61 316.57,61.80 316.97,61.26 317.37,60.04 317.77,59.58 318.16,57.09 318.56,54.60 318.96,55.03 319.36,59.78 319.76,63.07 320.16,60.57 320.56,54.45 320.96,53.64 321.35,61.14 321.75,68.12 322.15,56.16 322.55,42.85 322.95,42.15 323.35,50.19 323.75,64.42 324.14,75.90 324.54,82.12 324.94,84.86 325.34,81.87 325.74,64.37 326.14,57.28 326.54,63.48 326.94,69.26 327.33,76.24 327.73,80.49 328.13,75.20 328.53,66.77 328.93,60.58 329.33,60.23 329.73,58.06 330.12,57.12 330.52,59.94 330.92,62.25 331.32,61.82 331.72,58.73 332.12,56.16 332.52,59.01 332.92,60.96 333.31,62.40 333.71,59.99 334.11,56.32 334.51,55.54 334.91,54.94 335.30,61.00 335.70,70.70 336.10,67.19 336.50,60.27 336.90,53.20 337.29,56.01 337.69,59.81 338.09,61.75 338.49,64.96 338.88,66.67 339.28,66.59 339.68,64.51 340.08,61.53 340.48,58.63 340.87,56.58 341.27,55.82 341.67,56.18 342.07,57.86 342.46,59.10 342.86,59.30 343.26,60.47 343.66,59.89 344.06,57.22 344.45,57.38 344.85,60.13 345.25,62.33 345.65,66.87 346.04,72.64 346.44,69.00 346.84,63.31 347.24,59.82 347.64,65.98 348.03,57.26 348.43,49.06 348.83,43.47 349.23,55.23 349.62,72.08 350.02,73.20 350.42,74.63 350.82,81.10 351.22,87.94 351.61,76.38 352.01,62.43 352.41,51.04 352.81,57.37 353.20,65.51 353.60,71.20 354.00,69.63 354.40,64.28 354.80,58.72 355.19,59.39 355.59,61.89 355.99,64.53 356.39,67.98 356.78,68.88 357.18,66.15 357.58,64.10 357.98,64.58 358.38,67.76 358.77,66.64 359.17,63.69 359.57,58.50 359.97,57.37 360.36,61.32 360.76,57.56 361.16,55.89 361.55,62.70 361.95,61.93 362.35,58.35 362.74,52.78 363.14,51.55 363.54,55.78 363.93,56.95 364.33,54.76 364.73,54.56 365.12,53.50 365.52,54.22 365.92,58.17 366.31,60.12 366.71,60.27 367.11,59.53 367.50,58.09 367.90,57.30 368.30,58.29 368.69,59.12 369.09,59.00 369.49,59.50 369.88,58.19 370.28,56.50 370.68,58.40 371.07,62.43 371.47,66.22 371.87,72.00 372.26,74.32 372.66,65.73 373.06,61.00 373.45,61.62 373.85,68.96 374.25,68.70 374.64,59.42 375.04,44.95 375.44,31.41 375.83,44.76 376.23,68.55 376.63,76.55 377.02,80.32 377.42,81.43 377.82,75.48 378.21,67.97 378.61,61.80 379.01,57.59 379.40,66.11 379.80,72.63 380.20,77.08 380.59,73.40 380.99,69.16 381.39,62.94 381.78,59.78 382.18,58.21 382.58,57.48 382.97,58.93 383.37,60.97 383.77,60.54 384.16,59.40 384.56,59.79 384.96,58.76 385.35,63.75 385.75,68.01 386.15,69.05 386.54,64.50 386.94,61.19 387.34,59.35 387.74,59.74 388.14,59.28 388.53,58.39 388.93,57.16 389.33,56.28 389.73,58.81 390.13,62.49 390.53,62.19 390.93,58.29 391.32,58.12 391.72,61.34 392.12,63.02 392.52,63.91 392.92,64.95 393.32,62.09 393.72,57.03 394.12,55.62 394.51,57.35 394.91,59.02 395.31,62.25 395.71,65.69 396.11,65.54 396.51,61.58 396.91,57.67 397.31,55.18 397.70,57.66 398.10,62.93 398.50,66.10 398.90,64.99 399.30,67.26 399.70,66.07 400.10,61.01 400.49,52.96 400.89,57.93 401.29,61.06 401.69,49.10 402.09,34.81 402.49,42.40 402.89,51.53 403.29,60.77 403.68,70.01 404.08,79.89 404.48,87.89 404.88,82.89 405.28,70.74 405.68,56.93 406.08,58.61 406.47,70.64 406.87,76.55 407.27,73.62 407.67,67.43 408.07,60.04 408.47,58.78 408.87,60.13 409.27,58.73 409.66,58.31 410.06,61.88 410.46,67.07 410.86,69.90 411.26,67.67 411.66,59.95 412.06,60.81 412.45,65.59 412.85,70.89 413.25,67.67 413.65,57.10 414.05,50.02 414.45,54.88 414.84,64.54 415.24,66.38 415.64,59.55 416.04,55.62 416.44,50.27 416.83,46.67 417.23,51.54 417.63,58.30 418.03,63.82 418.42,65.36 418.82,64.44 419.22,62.82 419.62,62.27 420.02,61.86 420.41,61.62 420.81,63.87 421.21,65.20 421.61,65.10 422.00,64.10 422.40,61.38 422.80,59.18 423.20,57.50 423.60,55.53 423.99,57.14 424.39,62.42 424.79,69.23 425.19,74.63 425.58,74.91 425.98,65.50 426.38,57.26 426.78,63.25 427.17,73.88 427.57,72.51 427.97,59.27 428.37,44.72 428.77,47.05 429.16,63.95 429.56,71.48 429.96,73.06 430.36,77.70 430.75,83.83 431.15,73.79 431.55,58.50 431.95,54.99 432.35,61.48 432.74,69.32 433.14,68.93 433.54,64.46 433.94,58.35 434.33,57.39 434.73,59.79 435.13,61.52 435.53,61.89 435.93,60.49 436.32,59.78 436.72,58.16 437.12,54.58 437.52,54.02 437.91,56.72 438.31,60.40 438.71,71.06 439.11,69.02 439.51,59.18 439.90,54.89 440.29,60.11 440.69,66.58 441.08,74.95 441.48,72.46 441.87,66.43 442.27,61.84 442.66,61.93 443.06,62.41 443.45,62.20 443.85,61.02 444.24,60.14 444.63,61.13 445.03,63.87 445.42,66.71 445.82,66.49 446.21,62.86 446.61,59.43 447.00,59.97 447.40,61.22 447.79,60.93 448.19,60.29 448.58,58.42 448.97,56.72 449.37,54.92 449.76,55.35 450.16,61.87 450.55,68.85 450.95,72.59 451.34,57.63 451.74,39.33 452.13,40.55 452.53,53.16 452.92,61.27 453.31,55.58 453.71,47.47 454.10,55.49 454.50,69.50 454.89,70.96 455.29,72.22 455.68,71.40 456.08,75.10 456.47,63.64 456.87,62.91 457.26,69.54 457.65,72.03 458.05,71.88 458.44,68.89 458.84,62.44 459.23,57.19 459.63,57.12 460.02,60.20 460.42,62.86 460.81,61.77 461.21,58.74 461.60,60.40 461.99,61.20 462.39,57.65 462.78,49.81 463.18,59.81 463.57,70.84 463.97,69.27 464.36,60.87 464.76,53.10 465.15,50.19 465.54,57.06 465.94,60.99 466.33,60.78 466.73,59.49 467.12,59.66 467.51,55.72 467.91,53.97 468.30,56.41 468.70,60.51 469.09,63.02 469.48,65.20 469.88,65.85 470.27,66.35 470.67,66.12 471.06,64.86 471.45,62.72 471.85,59.76 472.24,58.78 472.63,60.59 473.03,61.79 473.42,62.49 473.82,65.10 474.21,64.49 474.60,60.58 475.00,59.01 475.39,61.39 475.79,68.07 476.18,69.63 476.57,62.83 476.97,58.45 477.36,66.18 477.76,68.74 478.15,61.17 478.54,49.24 478.94,47.43 479.33,56.24 479.73,69.31 480.12,76.71 480.51,78.67 480.91,79.63 481.30,75.57 481.70,72.54 482.09,68.95 482.48,67.24 482.88,68.86 483.27,70.85 483.67,67.92 484.06,62.48 484.45,55.94 484.85,58.42 485.24,60.65 485.64,61.06 486.03,61.10 486.42,60.73 486.82,58.87 487.21,59.27 487.61,57.88 488.00,62.64 488.39,71.80 488.79,75.89 489.18,69.25 489.57,60.88 489.97,54.75 490.37,51.23 490.76,56.61 491.16,60.25 491.55,61.50 491.95,59.11 492.35,59.31 492.74,57.54 493.14,53.95 493.53,50.74 493.93,52.87 494.33,57.42 494.72,59.13 495.12,59.60 495.51,59.16 495.91,57.94 496.31,59.01 496.70,62.80 497.10,63.96 497.49,63.84 497.89,64.77 498.29,64.61 498.68,63.30 499.08,61.19 499.47,60.24 499.87,60.25 500.27,61.56 500.66,62.26 501.06,62.60 501.45,64.36 501.85,58.16 502.24,51.26 502.64,46.58 503.04,59.51 503.43,63.83 503.83,48.69 504.22,33.13 504.62,47.77 505.02,68.17 505.41,72.55 505.81,72.96 506.20,76.53 506.60,75.23 507.00,60.82 507.39,47.09 507.79,53.02 508.18,58.69 508.58,64.93 508.98,69.61 509.37,67.35 509.77,65.28 510.16,62.82 510.56,60.14 510.96,58.17 511.35,56.61 511.75,57.06 512.14,63.01 512.54,66.56 512.94,61.79 513.33,54.50 513.73,50.90 514.12,60.71 514.52,65.82 514.91,61.76 515.31,56.25 515.70,52.12 516.10,56.45 516.49,63.98 516.89,71.20 517.28,74.73 517.67,68.42 518.07,58.77 518.46,52.79 518.85,52.75 519.25,53.92 519.64,53.36 520.03,52.23 520.43,55.39 520.82,59.65 521.21,62.31 521.61,62.25 522.00,60.68 522.40,61.04 522.79,63.50 523.18,64.19 523.58,64.48 523.97,65.64 524.36,65.02 524.76,63.81 525.15,63.12 525.54,64.41 525.94,67.83 526.33,68.48 526.72,64.72 527.12,55.47 527.51,49.52 527.91,50.03 528.30,53.53 528.69,55.81 529.09,44.17 529.48,33.45 529.87,45.13 530.27,56.61 530.66,69.97 531.05,82.48 531.45,83.80 531.84,80.21 532.23,76.80 532.63,64.85 533.02,51.25 533.42,50.99 533.81,60.04 534.20,66.33 534.60,63.59 534.99,58.23 535.38,56.12 535.78,56.83 536.17,59.37 536.56,62.46 536.96,64.14 537.35,63.44 537.74,56.59 538.14,50.58 538.53,47.40 538.93,54.13 539.32,63.84 539.71,65.75 540.11,59.03 540.50,53.32" fill="none" stroke="#ff7f0e" stroke-width="0.8" stroke-linejoin="round"/>
<polyline points="307.40,57.74 307.80,51.48 308.20,48.33 308.60,54.04 308.99,59.47 309.39,62.26 309.79,57.99 310.19,55.70 310.59,55.17 310.99,56.13 311.39,58.12 311.79,59.68 312.18,59.42 312.58,57.94 312.98,55.74 313.38,55.42 313.78,56.01 314.18,59.26 314.58,63.38 314.97,64.05 315.37,63.92 315.77,62.26 316.17,60.16 316.57,57.48 316.97,56.28 317.37,57.24 317.77,56.55 318.16,58.13 318.56,62.47 318.96,63.84 319.36,66.31 319.76,63.29 320.16,51.92 320.56,41.48 320.96,42.22 321.35,44.32 321.75,48.84 322.15,63.46 322.55,71.21 322.95,65.41 323.35,59.50 323.75,52.82 324.14,52.86 324.54,60.33 324.94,64.39 325.34,65.59 325.74,64.07 326.14,62.66 326.54,62.96 326.94,61.18 327.33,57.49 327.73,56.49 328.13,58.95 328.53,60.38 328.93,61.72 329.33,63.93 329.73,64.53 330.12,64.89 330.52,62.66 330.92,58.30 331.32,53.68 331.72,52.16 332.12,53.78 332.52,56.49 332.92,59.60 333.31,67.49 333.71,64.68 334.11,54.62 334.51,51.75 334.91,49.21 335.30,51.29 335.70,56.46 336.10,62.54 336.50,61.01 336.90,58.57 337.29,58.67 337.69,59.95 338.09,60.93 338.49,60.52 338.88,57.13 339.28,54.12 339.68,54.48 340.08,57.42 340.48,60.15 340.87,60.93 341.27,62.12 341.67,61.89 342.07,61.46 342.46,61.78 342.86,60.99 343.26,60.42 343.66,61.08 344.06,60.93 344.45,59.32 344.85,59.18 345.25,59.11 345.65,60.24 346.04,62.17 346.44,61.10 346.84,58.52 347.24,51.79 347.64,43.65 348.03,52.16 348.43,63.64 348.83,76.20 349.23,69.62 349.62,62.35 350.02,57.90 350.42,50.50 350.82,51.42 351.22,59.00 351.61,69.23 352.01,69.46 352.41,65.75 352.81,63.69 353.20,61.25 353.60,58.54 354.00,60.33 354.40,65.22 354.80,66.89 355.19,63.58 355.59,60.29 355.99,61.59 356.39,62.83 356.78,59.75 357.18,57.22 357.58,57.99 357.98,57.61 358.38,56.91 358.77,58.92 359.17,63.86 359.57,65.21 359.97,62.99 360.36,61.11 360.76,57.08 361.16,61.49 361.55,68.75 361.95,67.28 362.35,61.94 362.74,58.67 363.14,58.38 363.54,59.35 363.93,59.14 364.33,59.52 364.73,60.07 365.12,57.95 365.52,55.13 365.92,56.27 366.31,59.92 366.71,62.03 367.11,61.70 367.50,60.72 367.90,61.44 368.30,64.69 368.69,65.77 369.09,63.10 369.49,60.12 369.88,57.65 370.28,54.83 370.68,54.60 371.07,59.18 371.47,65.09 371.87,68.03 372.26,65.81 372.66,56.73 373.06,48.92 373.45,42.86 373.85,38.00 374.25,33.81 374.64,44.51 375.04,69.81 375.44,72.37 375.83,69.06 376.23,62.10 376.63,50.47 377.02,45.85 377.42,50.62 377.82,60.83 378.21,71.17 378.61,68.81 379.01,62.72 379.40,59.29 379.80,57.01 380.20,53.33 380.59,55.89 380.99,59.09 381.39,59.19 381.78,59.99 382.18,62.08 382.58,61.79 382.97,58.83 383.37,54.93 383.77,56.22 384.16,60.94 384.56,61.42 384.96,59.49 385.35,65.42 385.75,70.89 386.15,70.78 386.54,62.46 386.94,55.14 387.34,52.72 387.74,50.82 388.14,60.17 388.53,67.41 388.93,65.52 389.33,62.44 389.73,59.46 390.13,58.95 390.53,59.60 390.93,57.93 391.32,58.40 391.72,60.51 392.12,64.00 392.52,65.98 392.92,65.02 393.32,64.36 393.72,64.82 394.12,67.59 394.51,68.57 394.91,65.53 395.31,62.93 395.71,63.01 396.11,63.10 396.51,62.36 396.91,62.78 397.31,62.48 397.70,61.33 398.10,63.11 398.50,64.77 398.90,67.87 399.30,60.56 399.70,55.00 400.10,54.20 400.49,50.76 400.89,43.95 401.29,39.74 401.69,55.58 402.09,71.41 402.49,62.71 402.89,54.34 403.29,51.88 403.68,57.84 404.08,60.13 404.48,61.36 404.88,62.77 405.28,65.14 405.68,62.53 406.08,60.09 406.47,59.31 406.87,60.35 407.27,60.61 407.67,59.86 408.07,60.53 408.47,61.05 408.87,62.40 409.27,63.65 409.66,63.40 410.06,61.14 410.46,58.10 410.86,55.65 411.26,51.43 411.66,51.60 412.06,60.00 412.45,67.95 412.85,66.50 413.25,57.16 413.65,52.26 414.05,50.45 414.45,50.27 414.84,52.19 415.24,56.78 415.64,63.79 416.04,64.06 416.44,62.54 416.83,57.58 417.23,54.34 417.63,56.98 418.03,57.29 418.42,54.65 418.82,52.92 419.22,54.98 419.62,59.29 420.02,60.67 420.41,61.64 420.81,64.00 421.21,63.22 421.61,58.49 422.00,57.40 422.40,60.37 422.80,62.79 423.20,60.27 423.60,56.78 423.99,55.12 424.39,55.77 424.79,56.14 425.19,63.42 425.58,66.26 425.98,61.31 426.38,56.15 426.78,46.84 427.17,37.17 427.57,46.75 427.97,59.69 428.37,73.26 428.77,69.89 429.16,60.71 429.56,52.18 429.96,52.86 430.36,57.67 430.75,63.55 431.15,61.93 431.55,55.38 431.95,54.44 432.35,56.66 432.74,57.94 433.14,60.32 433.54,61.48 433.94,59.49 434.33,58.08 434.73,58.33 435.13,59.26 435.53,60.23 435.93,59.75 436.32,56.85 436.72,54.32 437.12,53.88 437.52,59.58 437.91,67.61 438.31,69.11 438.71,65.54 439.11,60.67 439.51,55.13 439.90,51.97 440.29,55.90 440.69,61.71 441.08,67.50 441.48,66.47 441.87,61.90 442.27,57.55 442.66,58.09 443.06,60.30 443.45,60.76 443.85,60.08 444.24,58.26 444.63,58.92 445.03,59.48 445.42,57.34 445.82,56.70 446.21,57.27 446.61,57.32 447.00,58.87 447.40,59.20 447.79,59.95 448.19,61.65 448.58,60.53 448.97,59.92 449.37,61.13 449.76,62.90 450.16,66.24 450.55,70.98 450.95,72.50 451.34,64.42 451.74,54.78 452.13,44.57 452.53,38.79 452.92,49.56 453.31,58.16 453.71,65.69 454.10,60.40 454.50,54.19 454.89,50.37 455.29,53.11 455.68,56.55 456.08,59.71 456.47,65.47 456.87,67.55 457.26,64.79 457.65,56.76 458.05,53.44 458.44,56.88 458.84,60.10 459.23,63.49 459.63,65.81 460.02,66.42 460.42,67.39 460.81,67.27 461.21,65.93 461.60,61.39 461.99,56.77 462.39,56.68 462.78,66.23 463.18,75.22 463.57,77.82 463.97,70.33 464.36,70.09 464.76,61.79 465.15,58.13 465.54,59.68 465.94,62.09 466.33,65.12 466.73,60.66 467.12,57.41 467.51,58.54 467.91,57.88 468.30,56.61 468.70,56.72 469.09,58.32 469.48,58.58 469.88,56.65 470.27,55.50 470.67,55.77 471.06,56.50 471.45,57.31 471.85,57.31 472.24,56.87 472.63,57.21 473.03,57.08 473.42,54.94 473.82,52.95 474.21,54.40 474.60,56.31 475.00,61.87 475.39,67.79 475.79,66.93 476.18,66.74 476.57,64.01 476.97,57.01 477.36,49.12 477.76,39.52 478.15,44.10 478.54,57.67 478.94,55.05 479.33,51.85 479.73,49.93 480.12,58.04 480.51,63.58 480.91,69.50 481.30,75.53 481.70,70.53 482.09,64.98 482.48,62.02 482.88,60.95 483.27,61.48 483.67,63.29 484.06,65.21 484.45,65.56 484.85,62.43 485.24,59.77 485.64,60.83 486.03,62.69 486.42,61.79 486.82,59.12 487.21,57.86 487.61,56.78 488.00,60.66 488.39,64.06 488.79,64.65 489.18,63.84 489.57,60.17 489.97,52.52 490.37,50.91 490.76,56.76 491.16,61.69 491.55,67.57 491.95,65.49 492.35,63.01 492.74,60.98 493.14,60.78 493.53,59.34 493.93,58.00 494.33,59.14 494.72,62.76 495.12,64.94 495.51,66.40 495.91,66.33 496.31,66.43 496.70,67.83 497.10,66.75 497.49,62.99 497.89,60.28 498.29,59.35 498.68,57.21 499.08,54.42 499.47,54.74 499.87,54.38 500.27,54.76 500.66,59.10 501.06,61.87 501.45,56.51 501.85,52.04 502.24,47.10 502.64,42.66 503.04,37.15 503.43,42.55 503.83,55.53 504.22,70.22 504.62,72.66 505.02,63.35 505.41,56.58 505.81,51.42 506.20,54.99 506.60,61.41 507.00,67.01 507.39,64.16 507.79,58.09 508.18,54.55 508.58,52.69 508.98,52.40 509.37,53.73 509.77,54.83 510.16,56.26 510.56,55.67 510.96,55.77 511.35,56.09 511.75,54.31 512.14,55.05 512.54,55.84 512.94,52.92 513.33,50.46 513.73,53.89 514.12,58.58 514.52,62.93 514.91,63.53 515.31,61.10 515.70,54.12 516.10,48.25 516.49,54.52 516.89,63.65 517.28,69.55 517.67,63.25 518.07,54.81 518.46,49.90 518.85,47.73 519.25,48.38 519.64,49.49 520.03,50.06 520.43,51.71 520.82,54.63 521.21,55.95 521.61,57.33 522.00,59.56 522.40,61.61 522.79,63.00 523.18,63.16 523.58,61.69 523.97,58.94 524.36,56.86 524.76,55.32 525.15,53.58 525.54,55.65 525.94,61.19 526.33,68.08 526.72,70.74 527.12,68.74 527.51,60.36 527.91,50.58 528.30,45.12 528.69,37.34 529.09,39.53 529.48,53.17 529.87,59.31 530.27,48.69 530.66,40.21 531.05,41.16 531.45,49.76 531.84,58.20 532.23,63.47 532.63,69.64 533.02,69.96 533.42,64.57 533.81,58.22 534.20,57.48 534.60,59.85 534.99,61.18 535.38,61.65 535.78,62.88 536.17,65.34 536.56,68.26 536.96,67.94 537.35,63.79 537.74,56.22 538.14,48.93 538.53,47.96 538.93,52.90 539.32,60.97 539.71,67.79 540.11,67.33 540.50,66.58" fill="none" stroke="#2ca02c" stroke-width="0.8" stroke-linejoin="round"/>
</g>
<rect x="307.4" y="16.6" width="233.10" height="92.20" fill="none" stroke="#9c9c9c" stroke-width="1.0"/>
<line x1="307.60" y1="17.10" x2="307.60" y2="108.30" stroke="#f42a2a" stroke-width="1.0" stroke-dasharray="2.2,1.2" opacity="0.35"/>
<line x1="334.11" y1="17.10" x2="334.11" y2="108.30" stroke="#f42a2a" stroke-width="1.0" stroke-dasharray="2.2,1.2" opacity="0.95"/>
<line x1="359.97" y1="17.10" x2="359.97" y2="108.30" stroke="#f42a2a" stroke-width="1.0" stroke-dasharray="2.2,1.2" opacity="0.95"/>
<line x1="386.94" y1="17.10" x2="386.94" y2="108.30" stroke="#f42a2a" stroke-width="1.0" stroke-dasharray="2.2,1.2" opacity="0.95"/>
<line x1="413.65" y1="17.10" x2="413.65" y2="108.30" stroke="#f42a2a" stroke-width="1.0" stroke-dasharray="2.2,1.2" opacity="0.95"/>
<line x1="439.51" y1="17.10" x2="439.51" y2="108.30" stroke="#f42a2a" stroke-width="1.0" stroke-dasharray="2.2,1.2" opacity="0.95"/>
<line x1="464.36" y1="17.10" x2="464.36" y2="108.30" stroke="#f42a2a" stroke-width="1.0" stroke-dasharray="2.2,1.2" opacity="0.95"/>
<line x1="489.57" y1="17.10" x2="489.57" y2="108.30" stroke="#f42a2a" stroke-width="1.0" stroke-dasharray="2.2,1.2" opacity="0.95"/>
<line x1="515.31" y1="17.10" x2="515.31" y2="108.30" stroke="#f42a2a" stroke-width="1.0" stroke-dasharray="2.2,1.2" opacity="0.95"/>
<line x1="540.20" y1="17.10" x2="540.20" y2="108.30" stroke="#f42a2a" stroke-width="1.0" stroke-dasharray="2.2,1.2" opacity="0.55"/>
<line x1="305.60" y1="18.69" x2="307.40" y2="18.69" stroke="#666" stroke-width="0.55"/>
<text x="297.20" y="21.99" font-size="8.6" text-anchor="start" textLength="7.00" lengthAdjust="spacingAndGlyphs">40</text>
<line x1="305.60" y1="39.57" x2="307.40" y2="39.57" stroke="#666" stroke-width="0.55"/>
<text x="297.20" y="42.87" font-size="8.6" text-anchor="start" textLength="7.00" lengthAdjust="spacingAndGlyphs">20</text>
<line x1="305.60" y1="60.45" x2="307.40" y2="60.45" stroke="#666" stroke-width="0.55"/>
<text x="300.70" y="63.75" font-size="8.6" text-anchor="start" textLength="3.50" lengthAdjust="spacingAndGlyphs">0</text>
<line x1="305.60" y1="81.33" x2="307.40" y2="81.33" stroke="#666" stroke-width="0.55"/>
<text x="292.90" y="84.63" font-size="8.6" text-anchor="start" textLength="11.30" lengthAdjust="spacingAndGlyphs">−20</text>
<line x1="305.60" y1="102.21" x2="307.40" y2="102.21" stroke="#666" stroke-width="0.55"/>
<text x="292.90" y="105.51" font-size="8.6" text-anchor="start" textLength="11.30" lengthAdjust="spacingAndGlyphs">−40</text>
<line x1="307.40" y1="108.80" x2="307.40" y2="110.60" stroke="#666" stroke-width="0.55"/>
<text x="305.65" y="118.10" font-size="8.6" text-anchor="start" textLength="3.50" lengthAdjust="spacingAndGlyphs">0</text>
<line x1="354.97" y1="108.80" x2="354.97" y2="110.60" stroke="#666" stroke-width="0.55"/>
<text x="353.22" y="118.10" font-size="8.6" text-anchor="start" textLength="3.50" lengthAdjust="spacingAndGlyphs">2</text>
<line x1="402.54" y1="108.80" x2="402.54" y2="110.60" stroke="#666" stroke-width="0.55"/>
<text x="400.79" y="118.10" font-size="8.6" text-anchor="start" textLength="3.50" lengthAdjust="spacingAndGlyphs">4</text>
<line x1="450.11" y1="108.80" x2="450.11" y2="110.60" stroke="#666" stroke-width="0.55"/>
<text x="448.36" y="118.10" font-size="8.6" text-anchor="start" textLength="3.50" lengthAdjust="spacingAndGlyphs">6</text>
<line x1="497.69" y1="108.80" x2="497.69" y2="110.60" stroke="#666" stroke-width="0.55"/>
<text x="495.94" y="118.10" font-size="8.6" text-anchor="start" textLength="3.50" lengthAdjust="spacingAndGlyphs">8</text>
<text x="404.2" y="14.2" font-size="10" text-anchor="start" textLength="46.1" lengthAdjust="spacingAndGlyphs">Linear Jerk</text>
<text x="408.6" y="127.4" font-size="9.0" text-anchor="start" textLength="30.6" lengthAdjust="spacingAndGlyphs">Time [s]</text>
<text transform="translate(289.4,96.0) rotate(-90)" font-size="9.4" textLength="69.6" lengthAdjust="spacingAndGlyphs" style="stroke-width:0.05px">Linear Jerk [m/s<tspan font-size="70%" dy="-3">3</tspan><tspan dy="3">]</tspan></text>
<rect x="462.8" y="19.5" width="74.00" height="48.20" rx="1.8" fill="#fff" fill-opacity="0.8" stroke="#d0d0d0" stroke-width="0.7"/>
<line x1="466.3" y1="26.8" x2="481.2" y2="26.8" stroke="#1f77b4" stroke-width="0.9" opacity="0.85"/>
<text x="487" y="29.70" font-size="7.6" text-anchor="start" textLength="45.8" lengthAdjust="spacingAndGlyphs">Jerk_Acc_X_5</text>
<line x1="466.3" y1="38.1" x2="481.2" y2="38.1" stroke="#ff7f0e" stroke-width="0.9" opacity="0.85"/>
<text x="487" y="41.00" font-size="7.6" text-anchor="start" textLength="45.8" lengthAdjust="spacingAndGlyphs">Jerk_Acc_Y_5</text>
<line x1="466.3" y1="49.5" x2="481.2" y2="49.5" stroke="#2ca02c" stroke-width="0.9" opacity="0.85"/>
<text x="487" y="52.40" font-size="7.6" text-anchor="start" textLength="45.8" lengthAdjust="spacingAndGlyphs">Jerk_Acc_Z_5</text>
<line x1="466.3" y1="61.0" x2="481.2" y2="61.0" stroke="#f42a2a" stroke-width="1.0" stroke-dasharray="2.2,1.2" opacity="0.95"/>
<text x="487" y="63.90" font-size="7.6" text-anchor="start" textLength="11.5" lengthAdjust="spacingAndGlyphs">HS</text>
<clipPath id="cBL"><rect x="39.2" y="152.0" width="229.20" height="91.20"/></clipPath>
<g clip-path="url(#cBL)">
<polyline points="39.20,167.36 39.59,169.67 39.98,172.05 40.38,174.75 40.77,177.90 41.16,180.82 41.55,181.37 41.94,181.88 42.34,182.33 42.73,182.39 43.12,182.52 43.51,182.82 43.90,182.87 44.30,182.53 44.69,181.75 45.08,180.92 45.47,180.60 45.86,180.70 46.26,180.90 46.65,181.22 47.04,181.15 47.43,180.00 47.82,178.68 48.22,177.68 48.61,176.31 49.00,174.68 49.39,173.49 49.78,171.93 50.18,169.90 50.57,168.65 50.96,167.72 51.35,167.68 51.74,168.29 52.14,169.02 52.53,170.84 52.92,173.85 53.31,176.31 53.70,178.71 54.10,181.41 54.49,184.83 54.88,188.03 55.27,190.68 55.66,194.86 56.06,199.97 56.45,205.00 56.84,208.93 57.23,213.31 57.62,217.26 58.02,220.54 58.41,224.09 58.80,226.38 59.19,227.54 59.58,228.72 59.98,227.75 60.37,226.58 60.76,224.32 61.15,221.50 61.54,218.47 61.94,214.99 62.33,209.63 62.72,204.86 63.11,200.34 63.50,195.79 63.90,190.81 64.29,181.97 64.68,174.55 65.07,171.02 65.46,167.83 65.86,170.39 66.25,173.07 66.64,175.65 67.03,177.55 67.42,179.31 67.81,180.89 68.20,182.16 68.59,183.24 68.98,183.64 69.38,183.16 69.77,182.82 70.16,181.76 70.55,181.07 70.94,181.27 71.33,180.94 71.72,180.27 72.11,180.04 72.50,179.67 72.90,179.06 73.29,178.49 73.68,177.75 74.07,176.98 74.46,175.83 74.85,174.78 75.24,174.45 75.63,173.51 76.02,171.69 76.42,169.98 76.81,168.45 77.20,167.84 77.59,167.53 77.98,166.91 78.37,167.03 78.76,170.15 79.15,173.71 79.54,176.52 79.94,178.56 80.33,180.82 80.72,184.26 81.11,188.05 81.50,193.62 81.89,200.04 82.28,205.57 82.67,210.84 83.06,216.09 83.46,219.95 83.85,223.32 84.24,226.10 84.63,227.05 85.02,227.57 85.41,227.58 85.80,227.46 86.19,227.30 86.58,225.34 86.98,221.16 87.37,216.42 87.76,209.38 88.15,201.87 88.54,197.13 88.93,193.27 89.32,188.64 89.71,180.15 90.10,173.97 90.50,170.18 90.89,166.37 91.28,168.82 91.67,171.40 92.06,173.86 92.45,176.38 92.84,178.68 93.23,180.25 93.62,181.79 94.01,184.02 94.40,184.89 94.79,184.43 95.18,183.92 95.57,182.87 95.96,181.33 96.35,180.45 96.74,180.65 97.13,180.88 97.52,180.78 97.91,180.68 98.30,179.78 98.69,178.55 99.08,177.84 99.47,177.72 99.86,176.87 100.25,175.36 100.64,174.27 101.03,173.41 101.42,172.27 101.81,171.43 102.20,170.36 102.59,168.82 102.98,168.00 103.37,168.12 103.76,167.84 104.15,167.28 104.54,168.01 104.93,169.36 105.32,170.76 105.71,173.50 106.10,177.21 106.49,181.13 106.88,185.56 107.27,189.12 107.66,193.49 108.05,198.93 108.44,205.41 108.83,211.14 109.22,216.04 109.61,219.28 110.00,222.27 110.39,225.30 110.78,227.81 111.17,228.73 111.56,229.35 111.95,228.43 112.34,226.79 112.73,224.92 113.12,221.15 113.51,217.19 113.90,213.59 114.29,208.32 114.68,202.58 115.07,198.29 115.46,195.05 115.85,191.46 116.24,184.75 116.63,175.96 117.02,170.62 117.41,167.44 117.80,169.97 118.19,172.32 118.58,174.80 118.98,178.76 119.37,182.46 119.76,183.00 120.15,183.76 120.54,184.96 120.94,185.48 121.33,184.24 121.72,182.96 122.11,182.19 122.50,181.51 122.90,180.85 123.29,180.67 123.68,180.30 124.07,179.57 124.46,178.98 124.86,178.57 125.25,178.46 125.64,177.58 126.03,176.56 126.42,175.23 126.82,173.39 127.21,171.60 127.60,170.64 127.99,170.08 128.38,169.57 128.78,168.58 129.17,167.46 129.56,167.38 129.95,167.76 130.34,167.90 130.74,168.57 131.13,170.77 131.52,173.25 131.91,176.09 132.30,178.66 132.70,181.77 133.09,186.11 133.48,190.39 133.87,194.15 134.26,197.96 134.66,202.35 135.05,207.59 135.44,213.96 135.83,219.13 136.22,220.80 136.62,222.55 137.01,224.71 137.40,227.89 137.79,230.31 138.19,227.88 138.58,225.52 138.97,223.13 139.36,220.96 139.75,218.93 140.15,216.03 140.54,210.02 140.93,204.13 141.32,198.88 141.71,193.95 142.11,188.20 142.50,181.31 142.89,174.73 143.28,169.92 143.67,166.67 144.06,170.03 144.46,173.79 144.85,176.09 145.24,178.14 145.63,179.99 146.02,180.90 146.41,182.32 146.80,184.07 147.19,184.60 147.58,184.40 147.98,184.20 148.37,183.68 148.76,183.32 149.15,182.53 149.54,181.30 149.93,180.21 150.32,179.65 150.71,178.87 151.10,177.85 151.50,177.26 151.89,176.72 152.28,175.59 152.67,173.98 153.06,172.69 153.45,171.72 153.84,171.11 154.23,170.66 154.62,170.15 155.02,169.27 155.41,168.41 155.80,168.39 156.19,168.74 156.58,169.65 156.97,172.08 157.36,174.38 157.75,177.18 158.14,180.26 158.54,183.00 158.93,185.85 159.32,189.26 159.71,193.45 160.10,199.08 160.49,204.32 160.88,210.08 161.27,215.61 161.66,220.35 162.06,225.00 162.45,227.22 162.84,227.82 163.23,228.77 163.62,228.79 164.01,228.01 164.40,226.56 164.79,223.82 165.18,220.32 165.58,216.81 165.97,210.92 166.36,204.33 166.75,200.03 167.14,197.10 167.53,193.99 167.92,187.25 168.31,175.29 168.70,171.04 169.10,167.73 169.48,169.75 169.87,171.49 170.26,172.76 170.65,176.44 171.04,180.53 171.42,181.85 171.81,182.68 172.20,183.58 172.59,183.27 172.97,183.35 173.36,183.42 173.75,182.85 174.14,182.22 174.53,181.66 174.91,181.00 175.30,180.40 175.69,179.67 176.08,179.16 176.47,179.30 176.85,178.56 177.24,176.96 177.63,175.13 178.02,173.85 178.41,172.65 178.79,171.50 179.18,170.34 179.57,169.42 179.96,168.77 180.35,168.66 180.73,169.15 181.12,169.53 181.51,171.46 181.90,173.52 182.29,175.56 182.67,177.54 183.06,179.14 183.45,181.04 183.84,184.80 184.23,189.06 184.61,195.46 185.00,202.00 185.39,206.83 185.78,211.67 186.16,216.61 186.55,221.27 186.94,225.49 187.33,225.79 187.72,226.08 188.10,226.14 188.49,226.27 188.88,226.98 189.27,226.25 189.66,222.48 190.04,218.52 190.43,211.78 190.82,202.61 191.21,198.13 191.60,195.12 191.98,192.46 192.37,188.39 192.76,180.31 193.15,172.58 193.54,165.80 193.92,169.70 194.31,173.75 194.70,176.93 195.09,179.47 195.47,181.55 195.86,182.50 196.25,183.32 196.63,183.66 197.02,184.19 197.41,184.48 197.80,183.61 198.18,182.48 198.57,181.76 198.96,181.22 199.35,181.06 199.73,181.37 200.12,181.63 200.51,181.07 200.90,180.02 201.28,179.00 201.67,178.16 202.06,177.08 202.45,176.04 202.83,175.45 203.22,174.26 203.61,172.22 203.99,170.46 204.38,169.42 204.77,168.47 205.16,168.54 205.54,168.47 205.93,168.73 206.32,170.49 206.71,172.37 207.09,174.88 207.48,178.65 207.87,181.77 208.26,184.67 208.64,187.87 209.03,191.62 209.42,195.97 209.80,200.08 210.19,205.89 210.58,214.48 210.97,219.83 211.35,222.96 211.74,225.97 212.13,227.74 212.52,228.48 212.90,229.68 213.29,228.80 213.68,227.13 214.07,222.97 214.45,218.63 214.84,214.81 215.23,210.16 215.62,204.35 216.00,200.32 216.39,196.86 216.78,193.48 217.16,187.05 217.55,173.63 217.94,170.66 218.33,168.19 218.72,169.80 219.11,171.28 219.49,172.63 219.88,176.16 220.27,180.18 220.66,183.25 221.05,184.11 221.44,184.92 221.83,183.78 222.22,182.88 222.61,182.38 223.00,181.70 223.39,180.99 223.78,180.58 224.17,180.46 224.56,181.07 224.95,181.31 225.33,180.97 225.72,180.10 226.11,178.18 226.50,176.32 226.89,175.47 227.28,174.78 227.67,174.22 228.06,173.73 228.45,172.43 228.84,171.02 229.23,170.08 229.62,169.25 230.01,168.88 230.40,168.62 230.78,167.78 231.17,169.61 231.56,172.12 231.95,174.94 232.34,177.28 232.73,179.39 233.12,182.41 233.51,185.73 233.90,189.35 234.29,194.41 234.68,201.08 235.07,206.64 235.46,211.01 235.85,215.58 236.24,219.46 236.62,223.12 237.01,226.23 237.40,227.21 237.79,228.58 238.18,228.86 238.57,227.37 238.96,225.44 239.35,221.68 239.74,218.73 240.13,214.81 240.52,209.32 240.91,204.11 241.30,199.44 241.69,194.25 242.08,188.30 242.46,182.62 242.85,177.22 243.24,172.49 243.63,168.09 244.02,169.80 244.41,171.44 244.79,175.01 245.18,179.33 245.57,182.40 245.95,183.18 246.34,183.86 246.73,184.46 247.12,184.95 247.50,184.18 247.89,183.17 248.28,182.04 248.66,181.20 249.05,180.79 249.44,180.19 249.82,179.94 250.21,179.66 250.60,179.33 250.99,179.31 251.37,178.57 251.76,176.86 252.15,175.67 252.53,174.57 252.92,172.58 253.31,171.05 253.69,171.00 254.08,171.19 254.47,170.57 254.86,169.85 255.24,169.44 255.63,168.66 256.02,167.33 256.40,167.94 256.79,170.55 257.18,173.72 257.56,178.71 257.95,182.26 258.34,184.41 258.73,187.09 259.11,189.97 259.50,198.46 259.89,205.77 260.27,209.50 260.66,213.05 261.05,216.65 261.43,221.81 261.82,226.25 262.21,227.62 262.60,229.00 262.98,230.40 263.37,228.95 263.76,226.44 264.14,222.62 264.53,216.81 264.92,212.35 265.30,208.42 265.69,204.67 266.08,201.70 266.47,196.92 266.85,191.49 267.24,182.02 267.63,174.22 268.01,170.37 268.40,166.62" fill="none" stroke="#1f77b4" stroke-width="0.8" stroke-linejoin="round"/>
<polyline points="39.20,172.35 39.59,174.72 39.98,181.89 40.38,184.72 40.77,198.77 41.16,203.33 41.55,195.23 41.94,190.10 42.34,186.92 42.73,188.93 43.12,191.92 43.51,188.61 43.90,191.67 44.30,189.86 44.69,192.13 45.08,191.49 45.47,188.27 45.86,191.39 46.26,190.47 46.65,188.77 47.04,186.35 47.43,184.76 47.82,190.39 48.22,191.99 48.61,190.56 49.00,195.05 49.39,192.55 49.78,188.73 50.18,189.45 50.57,189.81 50.96,190.13 51.35,190.21 51.74,189.22 52.14,187.28 52.53,193.43 52.92,201.82 53.31,202.30 53.70,200.22 54.10,195.89 54.49,197.35 54.88,192.53 55.27,188.95 55.66,187.09 56.06,185.81 56.45,183.71 56.84,186.69 57.23,185.64 57.62,184.69 58.02,183.59 58.41,185.38 58.80,180.07 59.19,180.10 59.58,178.49 59.98,176.86 60.37,175.98 60.76,175.54 61.15,171.45 61.54,172.16 61.94,172.14 62.33,171.02 62.72,175.85 63.11,176.33 63.50,175.28 63.90,171.30 64.29,165.38 64.68,169.95 65.07,168.41 65.46,171.71 65.86,175.10 66.25,178.82 66.64,196.32 67.03,203.80 67.42,197.62 67.81,192.78 68.20,190.63 68.59,190.36 68.98,188.09 69.38,187.41 69.77,190.97 70.16,188.34 70.55,187.44 70.94,188.75 71.33,190.82 71.72,188.42 72.11,191.62 72.50,188.29 72.90,186.72 73.29,192.58 73.68,189.41 74.07,188.87 74.46,189.48 74.85,191.45 75.24,191.40 75.63,193.14 76.02,190.48 76.42,189.51 76.81,191.47 77.20,191.96 77.59,191.58 77.98,192.58 78.37,194.36 78.76,196.56 79.15,197.47 79.54,197.11 79.94,196.05 80.33,187.83 80.72,185.03 81.11,188.52 81.50,186.59 81.89,184.32 82.28,182.79 82.67,182.83 83.06,181.90 83.46,184.01 83.85,183.51 84.24,183.62 84.63,183.75 85.02,178.81 85.41,177.02 85.80,174.51 86.19,174.80 86.58,171.83 86.98,173.63 87.37,171.01 87.76,176.82 88.15,175.80 88.54,174.11 88.93,175.58 89.32,172.80 89.71,172.71 90.10,165.31 90.50,166.50 90.89,167.83 91.28,172.50 91.67,177.58 92.06,188.26 92.45,204.63 92.84,204.71 93.23,199.62 93.62,193.80 94.01,192.00 94.40,191.46 94.79,188.05 95.18,186.65 95.57,184.50 95.96,188.55 96.35,187.93 96.74,185.65 97.13,187.20 97.52,186.51 97.91,184.64 98.30,188.80 98.69,189.16 99.08,191.13 99.47,192.03 99.86,192.12 100.25,195.33 100.64,196.71 101.03,189.55 101.42,188.84 101.81,187.14 102.20,189.38 102.59,190.20 102.98,190.00 103.37,191.55 103.76,196.36 104.15,194.99 104.54,199.99 104.93,196.44 105.32,188.45 105.71,187.98 106.10,185.24 106.49,187.25 106.88,185.17 107.27,184.88 107.66,184.15 108.05,186.72 108.44,187.20 108.83,185.12 109.22,187.56 109.61,185.90 110.00,182.89 110.39,183.32 110.78,182.36 111.17,180.71 111.56,176.83 111.95,175.51 112.34,173.75 112.73,173.41 113.12,170.06 113.51,174.60 113.90,178.33 114.29,175.98 114.68,176.60 115.07,177.74 115.46,179.85 115.85,172.58 116.24,171.35 116.63,171.23 117.02,172.70 117.41,169.96 117.80,174.96 118.19,177.85 118.58,187.22 118.98,196.83 119.37,202.90 119.76,200.46 120.15,193.73 120.54,190.89 120.94,188.06 121.33,187.35 121.72,186.54 122.11,186.81 122.50,189.24 122.90,190.49 123.29,193.45 123.68,192.72 124.07,190.80 124.46,190.92 124.86,184.18 125.25,182.26 125.64,184.96 126.03,185.91 126.42,187.51 126.82,190.34 127.21,190.78 127.60,186.31 127.99,184.67 128.38,185.33 128.78,185.82 129.17,186.11 129.56,186.91 129.95,186.64 130.34,187.07 130.74,190.12 131.13,196.81 131.52,200.86 131.91,195.32 132.30,193.03 132.70,194.90 133.09,190.04 133.48,191.26 133.87,183.44 134.26,183.54 134.66,183.21 135.05,184.67 135.44,185.21 135.83,183.86 136.22,183.63 136.62,184.95 137.01,183.44 137.40,181.47 137.79,181.05 138.19,183.39 138.58,184.41 138.97,179.52 139.36,175.83 139.75,169.68 140.15,168.86 140.54,170.56 140.93,174.40 141.32,174.80 141.71,172.94 142.11,173.41 142.50,171.09 142.89,170.31 143.28,173.02 143.67,170.69 144.06,179.76 144.46,188.51 144.85,200.10 145.24,204.93 145.63,202.67 146.02,196.36 146.41,193.47 146.80,194.28 147.19,189.76 147.58,190.01 147.98,186.07 148.37,185.92 148.76,187.47 149.15,187.17 149.54,189.48 149.93,188.74 150.32,188.53 150.71,188.86 151.10,188.14 151.50,190.18 151.89,188.31 152.28,190.71 152.67,188.06 153.06,187.39 153.45,185.49 153.84,184.98 154.23,178.75 154.62,184.21 155.02,185.23 155.41,186.92 155.80,184.47 156.19,190.38 156.58,192.82 156.97,199.64 157.36,197.54 157.75,195.52 158.14,191.09 158.54,191.12 158.93,190.41 159.32,186.96 159.71,188.21 160.10,186.93 160.49,183.65 160.88,186.37 161.27,181.84 161.66,182.61 162.06,182.79 162.45,180.09 162.84,177.99 163.23,177.96 163.62,175.34 164.01,172.10 164.40,171.48 164.79,172.39 165.18,173.21 165.58,172.93 165.97,172.74 166.36,173.78 166.75,173.62 167.14,172.50 167.53,169.71 167.92,171.04 168.31,170.21 168.70,169.57 169.10,168.13 169.48,179.71 169.87,182.32 170.26,192.18 170.65,203.12 171.04,198.10 171.42,193.76 171.81,189.20 172.20,190.16 172.59,188.90 172.97,190.54 173.36,190.55 173.75,190.96 174.14,192.47 174.53,191.10 174.91,189.88 175.30,190.21 175.69,191.07 176.08,193.06 176.47,187.74 176.85,186.80 177.24,188.52 177.63,188.54 178.02,186.57 178.41,188.06 178.79,185.65 179.18,188.06 179.57,189.34 179.96,189.87 180.35,193.69 180.73,193.72 181.12,196.16 181.51,201.97 181.90,198.99 182.29,197.56 182.67,192.85 183.06,190.11 183.45,188.14 183.84,188.89 184.23,191.22 184.61,189.96 185.00,189.09 185.39,184.89 185.78,185.35 186.16,188.00 186.55,183.84 186.94,183.37 187.33,183.23 187.72,180.73 188.10,179.08 188.49,179.34 188.88,176.60 189.27,173.61 189.66,172.77 190.04,169.46 190.43,171.37 190.82,174.09 191.21,175.83 191.60,175.36 191.98,173.67 192.37,173.26 192.76,173.56 193.15,169.92 193.54,169.49 193.92,173.17 194.31,181.99 194.70,198.66 195.09,204.95 195.47,202.80 195.86,199.90 196.25,192.45 196.63,191.42 197.02,192.84 197.41,186.93 197.80,185.32 198.18,184.49 198.57,187.59 198.96,189.82 199.35,190.19 199.73,188.98 200.12,188.78 200.51,188.46 200.90,187.53 201.28,186.73 201.67,189.09 202.06,187.52 202.45,186.90 202.83,186.27 203.22,183.72 203.61,185.70 203.99,185.03 204.38,186.07 204.77,184.76 205.16,186.79 205.54,186.80 205.93,189.31 206.32,201.32 206.71,196.68 207.09,196.28 207.48,193.81 207.87,191.37 208.26,187.50 208.64,184.69 209.03,181.58 209.42,184.93 209.80,187.14 210.19,187.01 210.58,184.37 210.97,182.32 211.35,184.02 211.74,184.91 212.13,182.61 212.52,181.44 212.90,180.95 213.29,181.69 213.68,182.62 214.07,176.21 214.45,170.18 214.84,168.78 215.23,173.04 215.62,171.50 216.00,173.35 216.39,166.06 216.78,167.00 217.16,168.13 217.55,167.61 217.94,171.76 218.33,167.94 218.72,174.96 219.11,183.02 219.49,187.14 219.88,196.06 220.27,198.77 220.66,197.72 221.05,191.10 221.44,191.29 221.83,186.08 222.22,186.63 222.61,191.06 223.00,187.56 223.39,190.02 223.78,191.49 224.17,191.90 224.56,190.48 224.95,186.50 225.33,187.35 225.72,189.44 226.11,183.27 226.50,184.70 226.89,188.00 227.28,187.15 227.67,188.68 228.06,188.13 228.45,188.39 228.84,189.66 229.23,191.06 229.62,191.10 230.01,188.43 230.40,189.01 230.78,187.93 231.17,194.49 231.56,194.88 231.95,197.67 232.34,197.19 232.73,192.48 233.12,192.80 233.51,192.12 233.90,188.30 234.29,183.62 234.68,185.79 235.07,181.53 235.46,181.86 235.85,183.24 236.24,180.80 236.62,180.24 237.01,181.84 237.40,180.38 237.79,175.61 238.18,174.31 238.57,176.30 238.96,173.56 239.35,171.38 239.74,169.90 240.13,169.18 240.52,169.06 240.91,174.35 241.30,172.29 241.69,168.47 242.08,169.41 242.46,168.94 242.85,169.09 243.24,170.83 243.63,168.28 244.02,170.52 244.41,174.98 244.79,187.12 245.18,201.79 245.57,199.13 245.95,199.53 246.34,195.91 246.73,194.24 247.12,189.27 247.50,188.27 247.89,186.87 248.28,183.08 248.66,182.89 249.05,186.19 249.44,190.60 249.82,193.53 250.21,190.15 250.60,188.65 250.99,187.34 251.37,185.31 251.76,187.50 252.15,184.31 252.53,189.31 252.92,189.32 253.31,187.68 253.69,190.69 254.08,186.73 254.47,186.23 254.86,188.40 255.24,189.70 255.63,189.04 256.02,193.93 256.40,192.37 256.79,197.51 257.18,197.05 257.56,193.68 257.95,190.06 258.34,187.88 258.73,191.42 259.11,190.26 259.50,191.20 259.89,187.31 260.27,187.08 260.66,182.51 261.05,184.58 261.43,184.10 261.82,182.65 262.21,179.79 262.60,182.91 262.98,179.24 263.37,178.67 263.76,177.91 264.14,176.05 264.53,170.28 264.92,168.04 265.30,171.97 265.69,170.87 266.08,169.43 266.47,173.51 266.85,172.77 267.24,172.93 267.63,170.09 268.01,171.25 268.40,170.93" fill="none" stroke="#ff7f0e" stroke-width="0.8" stroke-linejoin="round"/>
<polyline points="39.20,166.88 39.59,169.07 39.98,170.93 40.38,172.72 40.77,174.73 41.16,177.05 41.55,179.60 41.94,182.11 42.34,184.21 42.73,183.91 43.12,183.11 43.51,182.07 43.90,180.94 44.30,180.31 44.69,179.82 45.08,179.40 45.47,178.95 45.86,178.64 46.26,178.19 46.65,177.65 47.04,177.60 47.43,177.17 47.82,176.14 48.22,175.07 48.61,174.15 49.00,172.88 49.39,171.55 49.78,170.71 50.18,170.38 50.57,170.06 50.96,169.60 51.35,168.78 51.74,167.77 52.14,166.97 52.53,167.25 52.92,169.77 53.31,172.47 53.70,176.02 54.10,179.35 54.49,181.95 54.88,184.43 55.27,187.03 55.66,190.12 56.06,194.78 56.45,199.09 56.84,203.43 57.23,208.86 57.62,213.87 58.02,216.15 58.41,218.69 58.80,220.60 59.19,221.00 59.58,221.48 59.98,221.16 60.37,220.49 60.76,219.48 61.15,215.54 61.54,211.84 61.94,208.34 62.33,205.01 62.72,201.54 63.11,197.06 63.50,191.22 63.90,184.32 64.29,176.97 64.68,172.25 65.07,169.12 65.46,164.67 65.86,168.26 66.25,171.61 66.64,173.77 67.03,175.91 67.42,178.15 67.81,179.51 68.20,180.75 68.59,181.88 68.98,182.59 69.38,181.97 69.77,181.57 70.16,180.68 70.55,179.67 70.94,179.45 71.33,179.17 71.72,178.67 72.11,177.90 72.50,177.11 72.90,176.66 73.29,176.66 73.68,176.23 74.07,175.30 74.46,174.23 74.85,173.66 75.24,172.85 75.63,171.46 76.02,169.78 76.42,167.75 76.81,165.86 77.20,166.24 77.59,166.74 77.98,167.53 78.37,168.58 78.76,169.20 79.15,169.87 79.54,172.87 79.94,179.32 80.33,182.49 80.72,184.98 81.11,187.84 81.50,192.15 81.89,197.00 82.28,201.69 82.67,206.34 83.06,210.90 83.46,212.87 83.85,214.67 84.24,216.86 84.63,218.97 85.02,219.82 85.41,220.37 85.80,220.28 86.19,220.17 86.58,216.85 86.98,212.86 87.37,209.34 87.76,206.09 88.15,202.76 88.54,199.32 88.93,194.68 89.32,189.35 89.71,182.04 90.10,174.71 90.50,169.93 90.89,166.70 91.28,169.03 91.67,171.35 92.06,173.98 92.45,176.48 92.84,178.77 93.23,179.76 93.62,180.85 94.01,182.59 94.40,183.33 94.79,182.76 95.18,182.53 95.57,182.96 95.96,182.99 96.35,182.23 96.74,181.38 97.13,181.01 97.52,180.54 97.91,180.03 98.30,179.54 98.69,178.65 99.08,177.04 99.47,175.77 99.86,174.85 100.25,173.52 100.64,171.69 101.03,170.51 101.42,169.71 101.81,168.73 102.20,167.67 102.59,166.69 102.98,166.56 103.37,166.55 103.76,166.84 104.15,167.47 104.54,168.91 104.93,170.29 105.32,172.82 105.71,176.66 106.10,180.19 106.49,182.73 106.88,185.12 107.27,187.58 107.66,191.63 108.05,197.76 108.44,203.39 108.83,206.93 109.22,210.49 109.61,213.96 110.00,217.39 110.39,220.71 110.78,220.93 111.17,220.86 111.56,220.88 111.95,220.38 112.34,220.24 112.73,219.61 113.12,215.11 113.51,210.76 113.90,208.27 114.29,205.63 114.68,202.48 115.07,198.40 115.46,189.40 115.85,183.73 116.24,180.04 116.63,176.11 117.02,170.82 117.41,163.92 117.80,167.85 118.19,171.56 118.58,174.26 118.98,176.23 119.37,178.16 119.76,180.08 120.15,181.75 120.54,183.27 120.94,182.68 121.33,182.14 121.72,181.77 122.11,181.17 122.50,180.09 122.90,179.37 123.29,178.88 123.68,178.35 124.07,177.93 124.46,177.35 124.86,176.60 125.25,176.06 125.64,174.82 126.03,173.75 126.42,173.18 126.82,172.44 127.21,171.32 127.60,170.37 127.99,170.27 128.38,169.98 128.78,169.25 129.17,168.93 129.56,168.26 129.95,166.94 130.34,165.38 130.74,164.66 131.13,167.57 131.52,171.01 131.91,174.55 132.30,178.53 132.70,181.89 133.09,185.13 133.48,188.57 133.87,192.73 134.26,197.41 134.66,201.36 135.05,204.44 135.44,208.07 135.83,212.21 136.22,215.27 136.62,217.99 137.01,220.28 137.40,221.63 137.79,222.67 138.19,221.65 138.58,220.82 138.97,218.86 139.36,215.82 139.75,213.02 140.15,209.69 140.54,205.33 140.93,201.33 141.32,196.92 141.71,191.76 142.11,185.76 142.50,179.16 142.89,173.51 143.28,170.71 143.67,164.64 144.06,168.98 144.46,173.48 144.85,175.88 145.24,178.09 145.63,179.92 146.02,180.77 146.41,181.65 146.80,183.07 147.19,183.33 147.58,182.52 147.98,181.68 148.37,180.93 148.76,180.72 149.15,180.80 149.54,180.86 149.93,180.89 150.32,180.31 150.71,179.40 151.10,178.77 151.50,178.23 151.89,177.24 152.28,175.83 152.67,174.33 153.06,173.32 153.45,172.61 153.84,171.49 154.23,170.30 154.62,169.28 155.02,168.59 155.41,168.49 155.80,167.87 156.19,167.41 156.58,167.83 156.97,169.61 157.36,171.16 157.75,172.99 158.14,175.72 158.54,178.56 158.93,182.43 159.32,186.67 159.71,191.22 160.10,196.28 160.49,201.61 160.88,205.64 161.27,209.66 161.66,213.37 162.06,218.40 162.45,221.46 162.84,221.31 163.23,221.12 163.62,221.24 164.01,221.10 164.40,220.43 164.79,218.89 165.18,215.99 165.58,212.66 165.97,207.56 166.36,202.28 166.75,196.75 167.14,191.16 167.53,185.16 167.92,178.76 168.31,173.36 168.70,169.22 169.10,166.81 169.48,170.63 169.87,174.44 170.26,176.55 170.65,178.41 171.04,180.15 171.42,181.12 171.81,181.16 172.20,181.32 172.59,181.25 172.97,180.82 173.36,180.35 173.75,180.41 174.14,180.64 174.53,180.37 174.91,180.01 175.30,179.64 175.69,179.33 176.08,179.22 176.47,179.21 176.85,178.27 177.24,176.23 177.63,174.49 178.02,173.37 178.41,172.16 178.79,171.41 179.18,170.74 179.57,170.13 179.96,169.46 180.35,169.40 180.73,169.31 181.12,168.75 181.51,168.72 181.90,170.18 182.29,171.04 182.67,173.85 183.06,179.64 183.45,182.79 183.84,186.16 184.23,189.44 184.61,194.64 185.00,199.54 185.39,202.52 185.78,205.77 186.16,209.67 186.55,213.78 186.94,218.35 187.33,219.79 187.72,221.06 188.10,221.83 188.49,220.79 188.88,219.01 189.27,217.77 189.66,215.92 190.04,213.28 190.43,208.52 190.82,203.11 191.21,198.31 191.60,194.86 191.98,190.83 192.37,181.04 192.76,171.25 193.15,169.48 193.54,164.99 193.92,167.95 194.31,170.97 194.70,173.75 195.09,176.34 195.47,178.72 195.86,180.83 196.25,182.44 196.63,183.66 197.02,183.66 197.41,183.24 197.80,182.13 198.18,181.01 198.57,180.59 198.96,180.23 199.35,179.71 199.73,179.27 200.12,179.01 200.51,178.28 200.90,177.06 201.28,175.66 201.67,174.31 202.06,173.05 202.45,171.85 202.83,170.90 203.22,170.29 203.61,169.67 203.99,168.18 204.38,166.27 204.77,165.25 205.16,165.81 205.54,166.73 205.93,167.72 206.32,168.82 206.71,169.80 207.09,171.08 207.48,175.11 207.87,179.54 208.26,183.62 208.64,187.30 209.03,190.90 209.42,196.00 209.80,200.94 210.19,205.63 210.58,210.12 210.97,213.91 211.35,216.08 211.74,218.26 212.13,219.86 212.52,220.98 212.90,222.00 213.29,222.02 213.68,220.68 214.07,218.46 214.45,215.27 214.84,212.04 215.23,207.14 215.62,199.51 216.00,196.41 216.39,193.26 216.78,189.64 217.16,183.30 217.55,176.17 217.94,170.39 218.33,164.28 218.72,167.31 219.11,170.64 219.49,173.14 219.88,175.94 220.27,179.18 220.66,180.54 221.05,180.57 221.44,180.95 221.83,181.49 222.22,182.10 222.61,182.65 223.00,183.02 223.39,183.44 223.78,182.99 224.17,181.26 224.56,179.39 224.95,178.28 225.33,177.74 225.72,176.91 226.11,175.74 226.50,174.80 226.89,174.31 227.28,173.86 227.67,172.84 228.06,171.34 228.45,170.03 228.84,169.71 229.23,169.01 229.62,167.37 230.01,166.54 230.40,167.24 230.78,168.05 231.17,170.09 231.56,172.47 231.95,174.61 232.34,176.58 232.73,178.63 233.12,180.83 233.51,187.02 233.90,192.46 234.29,195.51 234.68,198.29 235.07,200.89 235.46,204.16 235.85,208.47 236.24,212.87 236.62,215.72 237.01,218.11 237.40,219.65 237.79,221.34 238.18,222.50 238.57,220.28 238.96,218.11 239.35,215.22 239.74,212.49 240.13,209.87 240.52,207.10 240.91,204.02 241.30,200.96 241.69,191.44 242.08,184.85 242.46,181.04 242.85,177.39 243.24,172.23 243.63,166.65 244.02,168.08 244.41,169.81 244.79,171.25 245.18,177.04 245.57,181.16 245.95,182.43 246.34,183.11 246.73,183.18 247.12,182.60 247.50,182.05 247.89,181.58 248.28,180.84 248.66,179.94 249.05,179.50 249.44,179.58 249.82,179.02 250.21,177.62 250.60,176.61 250.99,175.87 251.37,174.96 251.76,174.57 252.15,174.48 252.53,173.61 252.92,172.60 253.31,171.99 253.69,171.19 254.08,170.27 254.47,169.82 254.86,169.49 255.24,169.12 255.63,168.51 256.02,167.86 256.40,169.52 256.79,171.40 257.18,173.88 257.56,177.10 257.95,180.27 258.34,183.41 258.73,186.32 259.11,189.95 259.50,194.91 259.89,200.13 260.27,203.91 260.66,207.19 261.05,210.52 261.43,213.47 261.82,216.04 262.21,218.53 262.60,220.32 262.98,221.83 263.37,221.18 263.76,220.66 264.14,218.46 264.53,214.57 264.92,210.31 265.30,205.82 265.69,201.51 266.08,196.48 266.47,189.87 266.85,184.29 267.24,179.86 267.63,175.77 268.01,171.83 268.40,167.44" fill="none" stroke="#2ca02c" stroke-width="0.8" stroke-linejoin="round"/>
</g>
<rect x="39.2" y="152.0" width="229.20" height="91.20" fill="none" stroke="#9c9c9c" stroke-width="1.0"/>
<line x1="39.40" y1="152.50" x2="39.40" y2="242.70" stroke="#f42a2a" stroke-width="1.0" stroke-dasharray="2.2,1.2" opacity="0.35"/>
<line x1="65.46" y1="152.50" x2="65.46" y2="242.70" stroke="#f42a2a" stroke-width="1.0" stroke-dasharray="2.2,1.2" opacity="0.95"/>
<line x1="90.89" y1="152.50" x2="90.89" y2="242.70" stroke="#f42a2a" stroke-width="1.0" stroke-dasharray="2.2,1.2" opacity="0.95"/>
<line x1="117.41" y1="152.50" x2="117.41" y2="242.70" stroke="#f42a2a" stroke-width="1.0" stroke-dasharray="2.2,1.2" opacity="0.95"/>
<line x1="143.67" y1="152.50" x2="143.67" y2="242.70" stroke="#f42a2a" stroke-width="1.0" stroke-dasharray="2.2,1.2" opacity="0.95"/>
<line x1="169.10" y1="152.50" x2="169.10" y2="242.70" stroke="#f42a2a" stroke-width="1.0" stroke-dasharray="2.2,1.2" opacity="0.95"/>
<line x1="193.54" y1="152.50" x2="193.54" y2="242.70" stroke="#f42a2a" stroke-width="1.0" stroke-dasharray="2.2,1.2" opacity="0.95"/>
<line x1="218.33" y1="152.50" x2="218.33" y2="242.70" stroke="#f42a2a" stroke-width="1.0" stroke-dasharray="2.2,1.2" opacity="0.95"/>
<line x1="243.63" y1="152.50" x2="243.63" y2="242.70" stroke="#f42a2a" stroke-width="1.0" stroke-dasharray="2.2,1.2" opacity="0.95"/>
<line x1="268.10" y1="152.50" x2="268.10" y2="242.70" stroke="#f42a2a" stroke-width="1.0" stroke-dasharray="2.2,1.2" opacity="0.55"/>
<line x1="37.40" y1="154.72" x2="39.20" y2="154.72" stroke="#666" stroke-width="0.55"/>
<text x="25.35" y="158.02" font-size="8.6" text-anchor="start" textLength="10.65" lengthAdjust="spacingAndGlyphs">200</text>
<line x1="37.40" y1="171.26" x2="39.20" y2="171.26" stroke="#666" stroke-width="0.55"/>
<text x="25.35" y="174.56" font-size="8.6" text-anchor="start" textLength="10.65" lengthAdjust="spacingAndGlyphs">100</text>
<line x1="37.40" y1="187.80" x2="39.20" y2="187.80" stroke="#666" stroke-width="0.55"/>
<text x="32.45" y="191.10" font-size="8.6" text-anchor="start" textLength="3.55" lengthAdjust="spacingAndGlyphs">0</text>
<line x1="37.40" y1="204.34" x2="39.20" y2="204.34" stroke="#666" stroke-width="0.55"/>
<text x="20.85" y="207.64" font-size="8.6" text-anchor="start" textLength="15.15" lengthAdjust="spacingAndGlyphs">−100</text>
<line x1="37.40" y1="220.88" x2="39.20" y2="220.88" stroke="#666" stroke-width="0.55"/>
<text x="20.85" y="224.18" font-size="8.6" text-anchor="start" textLength="15.15" lengthAdjust="spacingAndGlyphs">−200</text>
<line x1="37.40" y1="237.42" x2="39.20" y2="237.42" stroke="#666" stroke-width="0.55"/>
<text x="20.85" y="240.72" font-size="8.6" text-anchor="start" textLength="15.15" lengthAdjust="spacingAndGlyphs">−300</text>
<line x1="39.20" y1="243.20" x2="39.20" y2="245.00" stroke="#666" stroke-width="0.55"/>
<text x="37.43" y="252.00" font-size="8.6" text-anchor="start" textLength="3.55" lengthAdjust="spacingAndGlyphs">0</text>
<line x1="85.98" y1="243.20" x2="85.98" y2="245.00" stroke="#666" stroke-width="0.55"/>
<text x="84.20" y="252.00" font-size="8.6" text-anchor="start" textLength="3.55" lengthAdjust="spacingAndGlyphs">2</text>
<line x1="132.75" y1="243.20" x2="132.75" y2="245.00" stroke="#666" stroke-width="0.55"/>
<text x="130.98" y="252.00" font-size="8.6" text-anchor="start" textLength="3.55" lengthAdjust="spacingAndGlyphs">4</text>
<line x1="179.53" y1="243.20" x2="179.53" y2="245.00" stroke="#666" stroke-width="0.55"/>
<text x="177.75" y="252.00" font-size="8.6" text-anchor="start" textLength="3.55" lengthAdjust="spacingAndGlyphs">6</text>
<line x1="226.30" y1="243.20" x2="226.30" y2="245.00" stroke="#666" stroke-width="0.55"/>
<text x="224.53" y="252.00" font-size="8.6" text-anchor="start" textLength="3.55" lengthAdjust="spacingAndGlyphs">8</text>
<text x="107.2" y="149.5" font-size="10" text-anchor="start" textLength="93.0" lengthAdjust="spacingAndGlyphs">Raw Angular Velocity</text>
<text x="138.6" y="261.5" font-size="9.0" text-anchor="start" textLength="30.6" lengthAdjust="spacingAndGlyphs">Time [s]</text>
<text transform="translate(17.6,243.2) rotate(-90)" font-size="9.2" textLength="91.2" lengthAdjust="spacingAndGlyphs" style="stroke-width:0.05px">Angular Velocity [rad/s]</text>
<rect x="204.4" y="153.4" width="62.00" height="50.50" rx="1.8" fill="#fff" fill-opacity="0.8" stroke="#d0d0d0" stroke-width="0.7"/>
<line x1="207.4" y1="161.2" x2="223.0" y2="161.2" stroke="#1f77b4" stroke-width="0.9" opacity="0.85"/>
<text x="228.2" y="164.10" font-size="7.7" text-anchor="start" textLength="33" lengthAdjust="spacingAndGlyphs">Gyro_X_5</text>
<line x1="207.4" y1="172.9" x2="223.0" y2="172.9" stroke="#ff7f0e" stroke-width="0.9" opacity="0.85"/>
<text x="228.2" y="175.80" font-size="7.7" text-anchor="start" textLength="33" lengthAdjust="spacingAndGlyphs">Gyro_Y_5</text>
<line x1="207.4" y1="184.4" x2="223.0" y2="184.4" stroke="#2ca02c" stroke-width="0.9" opacity="0.85"/>
<text x="228.2" y="187.30" font-size="7.7" text-anchor="start" textLength="33" lengthAdjust="spacingAndGlyphs">Gyro_Z_5</text>
<line x1="207.4" y1="196.0" x2="223.0" y2="196.0" stroke="#f42a2a" stroke-width="1.0" stroke-dasharray="2.2,1.2" opacity="0.95"/>
<text x="228.2" y="198.90" font-size="7.7" text-anchor="start" textLength="11.5" lengthAdjust="spacingAndGlyphs">HS</text>
<clipPath id="cBR"><rect x="314.1" y="152.3" width="226.40" height="90.10"/></clipPath>
<g clip-path="url(#cBR)">
<polyline points="314.10,228.68 314.49,223.40 314.87,218.22 315.26,213.21 315.65,208.84 316.04,203.24 316.42,196.91 316.81,193.80 317.20,191.78 317.58,190.66 317.97,189.68 318.36,189.39 318.75,190.12 319.13,190.56 319.52,191.12 319.91,191.90 320.30,192.48 320.68,191.97 321.07,191.85 321.46,194.04 321.84,195.71 322.23,194.44 322.62,192.49 323.01,191.34 323.39,191.78 323.78,192.89 324.17,192.39 324.55,191.60 324.94,192.23 325.33,193.80 325.72,195.22 326.10,194.70 326.49,194.99 326.88,196.05 327.27,193.99 327.65,191.85 328.04,191.96 328.43,192.42 328.81,195.84 329.20,199.98 329.59,202.73 329.98,203.49 330.36,204.43 330.75,207.79 331.14,212.08 331.52,215.32 331.91,218.62 332.30,212.92 332.69,207.72 333.07,206.01 333.46,203.09 333.85,199.13 334.24,196.70 334.62,194.86 335.01,193.21 335.40,190.79 335.78,188.75 336.17,187.83 336.56,184.86 336.95,179.42 337.33,174.04 337.72,175.53 338.11,180.94 338.49,185.97 338.88,191.14 339.27,196.33 339.66,200.75 340.04,198.65 340.43,192.48 340.82,187.41 341.20,186.08 341.59,188.38 341.98,190.39 342.36,192.64 342.75,193.84 343.13,193.90 343.52,193.01 343.91,190.72 344.29,189.34 344.68,189.64 345.07,191.11 345.45,192.17 345.84,193.03 346.22,194.63 346.61,195.20 347.00,193.92 347.38,194.45 347.77,196.50 348.16,197.32 348.54,195.39 348.93,193.01 349.32,193.11 349.70,193.65 350.09,193.03 350.47,192.38 350.86,191.54 351.25,190.57 351.63,190.19 352.02,190.88 352.41,192.22 352.79,192.95 353.18,193.02 353.57,193.28 353.95,194.15 354.34,196.46 354.72,197.65 355.11,198.95 355.50,202.14 355.88,207.51 356.27,210.55 356.66,214.52 357.04,220.15 357.43,216.35 357.82,211.89 358.20,205.69 358.59,200.93 358.97,197.94 359.36,196.71 359.75,195.96 360.13,195.14 360.52,191.76 360.91,187.84 361.29,184.26 361.68,179.95 362.06,177.58 362.45,174.99 362.84,170.61 363.22,169.41 363.61,176.82 364.00,183.98 364.38,191.04 364.77,194.70 365.16,192.56 365.54,192.19 365.93,190.50 366.31,190.11 366.70,193.05 367.08,194.56 367.47,193.86 367.85,193.11 368.24,192.01 368.62,192.00 369.01,192.26 369.39,190.87 369.78,189.73 370.16,190.51 370.55,191.33 370.93,191.49 371.32,189.88 371.70,190.07 372.09,192.58 372.48,193.20 372.86,193.91 373.25,195.27 373.63,196.20 374.02,196.29 374.40,194.96 374.79,192.52 375.17,190.66 375.56,190.03 375.94,190.34 376.33,191.67 376.71,192.09 377.10,190.35 377.48,190.11 377.87,190.91 378.25,190.41 378.64,191.00 379.02,191.97 379.41,194.10 379.80,198.37 380.18,200.43 380.57,200.11 380.95,201.59 381.34,203.13 381.72,204.50 382.11,209.75 382.49,216.28 382.88,219.98 383.26,220.13 383.65,214.11 384.03,210.55 384.42,207.67 384.80,205.42 385.19,203.63 385.57,200.81 385.96,197.87 386.34,193.26 386.73,188.00 387.12,185.00 387.50,182.83 387.89,180.41 388.27,177.99 388.66,173.40 389.04,168.45 389.43,174.48 389.81,180.12 390.20,186.60 390.58,191.26 390.97,194.43 391.35,196.36 391.74,195.13 392.13,192.41 392.51,191.43 392.90,191.92 393.29,192.80 393.68,192.50 394.06,192.10 394.45,190.33 394.84,187.70 395.23,187.65 395.61,188.44 396.00,187.22 396.39,185.98 396.77,188.20 397.16,191.22 397.55,191.91 397.94,192.07 398.32,192.25 398.71,191.63 399.10,191.29 399.48,191.52 399.87,191.42 400.26,191.36 400.65,191.58 401.03,190.37 401.42,189.82 401.81,191.08 402.20,192.11 402.58,191.51 402.97,192.60 403.36,192.71 403.74,191.63 404.13,192.37 404.52,195.13 404.91,197.17 405.29,196.50 405.68,195.08 406.07,195.54 406.45,197.47 406.84,199.07 407.23,201.01 407.62,206.04 408.00,209.38 408.39,211.95 408.78,216.23 409.17,220.10 409.55,213.17 409.94,205.54 410.33,202.02 410.71,198.66 411.10,195.16 411.49,192.58 411.88,191.58 412.26,190.67 412.65,189.02 413.04,186.65 413.42,184.31 413.81,181.42 414.20,178.80 414.59,175.00 414.97,170.80 415.36,174.55 415.75,181.23 416.14,186.76 416.52,192.39 416.91,198.15 417.30,198.77 417.68,195.70 418.07,193.64 418.46,191.44 418.84,191.55 419.23,192.47 419.61,193.40 420.00,193.66 420.39,193.73 420.77,194.26 421.16,193.23 421.55,191.49 421.93,192.71 422.32,193.60 422.71,193.01 423.09,195.20 423.48,197.24 423.86,194.35 424.25,190.88 424.64,189.60 425.02,189.08 425.41,190.03 425.80,191.24 426.18,191.70 426.57,189.96 426.96,187.89 427.34,188.42 427.73,191.51 428.11,194.22 428.50,194.61 428.89,193.69 429.27,192.63 429.66,192.73 430.05,193.08 430.43,192.71 430.82,192.25 431.20,193.16 431.59,192.13 431.98,192.77 432.36,197.19 432.75,201.66 433.14,203.41 433.52,207.02 433.91,213.37 434.30,220.67 434.68,221.40 435.07,215.86 435.45,208.95 435.84,203.88 436.23,199.68 436.61,194.31 437.00,191.10 437.39,189.85 437.77,187.58 438.16,187.36 438.55,186.35 438.93,180.30 439.32,174.39 439.70,170.22 440.09,171.25 440.48,180.29 440.86,185.01 441.25,187.66 441.64,192.34 442.02,195.63 442.41,197.13 442.79,194.98 443.18,194.12 443.56,195.96 443.94,197.05 444.32,195.19 444.71,192.70 445.09,191.65 445.47,191.87 445.86,192.01 446.24,191.65 446.62,190.80 447.01,189.93 447.39,190.11 447.77,191.05 448.16,191.81 448.54,192.10 448.92,191.90 449.31,191.53 449.69,190.56 450.07,190.91 450.46,192.04 450.84,192.77 451.22,192.26 451.61,191.21 451.99,191.19 452.37,192.36 452.76,192.71 453.14,191.40 453.52,189.83 453.90,188.67 454.29,189.04 454.67,192.68 455.05,195.96 455.44,197.24 455.82,198.33 456.20,198.03 456.59,197.80 456.97,200.17 457.35,204.63 457.74,209.79 458.12,214.54 458.50,218.91 458.89,218.84 459.27,213.28 459.65,208.91 460.04,206.06 460.42,202.44 460.80,198.51 461.19,194.65 461.57,191.80 461.95,189.66 462.34,188.25 462.72,186.06 463.10,181.65 463.48,176.65 463.87,171.82 464.25,167.95 464.63,168.44 465.02,183.33 465.40,193.72 465.78,199.11 466.17,200.33 466.55,197.94 466.93,196.05 467.32,193.00 467.70,191.33 468.08,189.54 468.46,188.16 468.85,188.25 469.23,187.86 469.61,187.79 469.99,189.55 470.38,191.02 470.76,190.95 471.14,188.91 471.52,187.08 471.91,187.63 472.29,190.48 472.67,193.44 473.06,195.25 473.44,195.40 473.82,193.68 474.20,193.63 474.59,196.74 474.97,196.64 475.35,193.93 475.73,193.49 476.12,193.38 476.50,192.46 476.88,191.03 477.26,190.36 477.65,190.91 478.03,191.51 478.41,191.96 478.79,191.26 479.18,190.28 479.56,191.66 479.94,194.65 480.32,195.98 480.71,196.91 481.09,198.90 481.47,201.33 481.86,204.04 482.24,207.39 482.62,211.26 483.00,215.52 483.39,215.45 483.77,209.04 484.15,204.24 484.53,200.22 484.92,197.30 485.30,195.03 485.68,192.58 486.06,190.55 486.45,189.58 486.83,189.62 487.21,190.16 487.59,187.25 487.98,182.00 488.36,175.60 488.74,168.06 489.13,171.68 489.51,182.72 489.89,188.79 490.27,190.67 490.66,194.27 491.04,193.93 491.42,194.53 491.81,192.62 492.19,190.39 492.58,189.47 492.96,189.01 493.35,190.28 493.73,191.44 494.12,191.89 494.50,192.51 494.88,193.07 495.27,193.49 495.65,193.40 496.04,193.19 496.42,193.71 496.81,195.16 497.19,194.77 497.58,192.48 497.96,191.87 498.35,192.76 498.73,192.72 499.11,191.12 499.50,189.48 499.88,189.48 500.27,189.04 500.65,189.30 501.04,189.50 501.42,190.09 501.81,190.27 502.19,189.60 502.58,190.46 502.96,192.70 503.34,192.83 503.73,190.36 504.11,190.00 504.50,192.20 504.88,193.58 505.27,194.56 505.65,195.96 506.04,198.26 506.42,201.89 506.81,205.03 507.19,208.74 507.57,211.02 507.96,215.06 508.34,215.82 508.73,208.90 509.11,203.76 509.50,202.69 509.88,200.38 510.27,195.96 510.65,192.49 511.04,190.45 511.42,188.56 511.80,188.88 512.19,188.96 512.57,183.62 512.96,176.97 513.34,169.11 513.73,166.71 514.11,174.78 514.50,181.77 514.88,189.48 515.27,197.30 515.65,200.81 516.03,195.39 516.42,190.86 516.80,189.19 517.18,191.28 517.56,193.90 517.95,194.34 518.33,194.07 518.71,193.24 519.09,191.47 519.48,191.30 519.86,193.89 520.24,195.73 520.62,194.00 521.00,190.29 521.39,190.11 521.77,193.54 522.15,194.58 522.53,191.89 522.92,189.28 523.30,188.98 523.68,189.79 524.06,190.31 524.44,190.94 524.83,190.70 525.21,189.85 525.59,191.61 525.97,193.98 526.36,194.85 526.74,194.34 527.12,192.11 527.50,190.72 527.89,190.45 528.27,188.05 528.65,187.08 529.03,190.61 529.41,194.84 529.80,196.77 530.18,199.42 530.56,203.74 530.94,207.13 531.33,209.30 531.71,211.65 532.09,215.00 532.47,218.09 532.85,213.69 533.24,208.13 533.62,204.88 534.00,201.74 534.38,197.11 534.77,192.64 535.15,189.21 535.53,189.10 535.91,190.18 536.30,188.17 536.68,184.33 537.06,180.10 537.44,177.52 537.82,171.87 538.21,171.28 538.59,179.64 538.97,186.94 539.35,192.05 539.74,196.58 540.12,200.52 540.50,198.80" fill="none" stroke="#1f77b4" stroke-width="0.8" stroke-linejoin="round"/>
<polyline points="314.10,232.24 314.49,215.23 314.87,201.94 315.26,195.21 315.65,194.29 316.04,184.59 316.42,184.23 316.81,176.37 317.20,193.64 317.58,202.74 317.97,213.81 318.36,207.10 318.75,199.40 319.13,201.00 319.52,193.75 319.91,192.78 320.30,190.54 320.68,193.66 321.07,194.72 321.46,190.11 321.84,193.63 322.23,192.80 322.62,198.63 323.01,193.31 323.39,194.16 323.78,184.24 324.17,189.71 324.55,186.88 324.94,192.58 325.33,189.34 325.72,189.48 326.10,193.34 326.49,200.32 326.88,194.88 327.27,187.71 327.65,178.73 328.04,167.90 328.43,184.30 328.81,187.89 329.20,189.53 329.59,192.04 329.98,185.14 330.36,193.92 330.75,189.56 331.14,185.49 331.52,181.37 331.91,186.69 332.30,195.78 332.69,189.26 333.07,191.12 333.46,183.65 333.85,179.16 334.24,180.22 334.62,183.96 335.01,185.33 335.40,190.47 335.78,195.30 336.17,204.50 336.56,213.18 336.95,206.73 337.33,201.57 337.72,188.74 338.11,190.97 338.49,193.45 338.88,196.09 339.27,203.14 339.66,213.62 340.04,233.92 340.43,203.95 340.82,194.58 341.20,184.23 341.59,188.14 341.98,194.81 342.36,189.95 342.75,179.07 343.13,191.07 343.52,197.97 343.91,203.04 344.29,206.95 344.68,199.79 345.07,189.83 345.45,189.73 345.84,185.11 346.22,190.36 346.61,190.00 347.00,191.35 347.38,189.32 347.77,184.12 348.16,190.58 348.54,191.68 348.93,189.57 349.32,189.00 349.70,187.03 350.09,189.70 350.47,189.57 350.86,195.23 351.25,196.65 351.63,199.87 352.02,199.54 352.41,198.14 352.79,195.46 353.18,177.85 353.57,172.73 353.95,194.15 354.34,194.99 354.72,196.85 355.11,189.16 355.50,193.82 355.88,194.32 356.27,182.95 356.66,179.66 357.04,175.73 357.43,190.50 357.82,192.94 358.20,193.15 358.59,189.88 358.97,186.42 359.36,192.22 359.75,184.84 360.13,185.56 360.52,193.21 360.91,201.52 361.29,210.35 361.68,207.90 362.06,199.46 362.45,190.33 362.84,186.08 363.22,185.13 363.61,185.59 364.00,192.39 364.38,185.24 364.77,200.81 365.16,233.11 365.54,203.85 365.93,204.10 366.31,197.64 366.70,191.56 367.08,186.11 367.47,185.04 367.85,182.52 368.24,171.21 368.62,183.86 369.01,197.39 369.39,201.65 369.78,208.26 370.16,200.81 370.55,194.89 370.93,188.37 371.32,186.21 371.70,199.27 372.09,195.72 372.48,185.92 372.86,188.33 373.25,183.30 373.63,196.39 374.02,191.33 374.40,183.90 374.79,188.34 375.17,186.84 375.56,183.19 375.94,194.82 376.33,194.83 376.71,190.24 377.10,184.37 377.48,189.62 377.87,202.88 378.25,187.46 378.64,171.49 379.02,170.21 379.41,176.58 379.80,188.09 380.18,187.46 380.57,192.54 380.95,187.19 381.34,184.65 381.72,188.71 382.11,189.35 382.49,186.31 382.88,179.04 383.26,185.94 383.65,189.93 384.03,192.50 384.42,194.27 384.80,188.42 385.19,180.55 385.57,176.32 385.96,186.10 386.34,194.06 386.73,203.63 387.12,203.54 387.50,196.52 387.89,203.05 388.27,199.42 388.66,194.20 389.04,192.08 389.43,191.85 389.81,185.54 390.20,192.28 390.58,195.83 390.97,220.64 391.35,232.15 391.74,205.13 392.13,201.89 392.51,194.87 392.90,198.38 393.29,193.06 393.68,191.00 394.06,185.70 394.45,183.00 394.84,197.24 395.23,201.33 395.61,205.92 396.00,207.50 396.39,192.96 396.77,188.39 397.16,185.21 397.55,199.89 397.94,198.02 398.32,193.47 398.71,184.37 399.10,182.81 399.48,188.30 399.87,187.17 400.26,193.20 400.65,192.40 401.03,193.27 401.42,192.33 401.81,196.99 402.20,197.13 402.58,196.84 402.97,193.13 403.36,198.52 403.74,201.06 404.13,188.91 404.52,177.84 404.91,173.43 405.29,183.19 405.68,189.38 406.07,201.41 406.45,192.62 406.84,187.21 407.23,188.50 407.62,191.35 408.00,196.74 408.39,193.08 408.78,183.15 409.17,194.33 409.55,198.25 409.94,191.64 410.33,187.98 410.71,184.53 411.10,180.08 411.49,180.55 411.88,182.33 412.26,185.80 412.65,193.56 413.04,203.24 413.42,199.86 413.81,203.57 414.20,205.17 414.59,197.61 414.97,178.13 415.36,184.65 415.75,185.42 416.14,185.22 416.52,189.99 416.91,202.71 417.30,230.26 417.68,201.19 418.07,193.49 418.46,194.48 418.84,189.10 419.23,193.47 419.61,197.96 420.00,177.41 420.39,187.71 420.77,186.31 421.16,210.98 421.55,198.48 421.93,193.83 422.32,182.74 422.71,182.97 423.09,179.06 423.48,185.62 423.86,197.05 424.25,185.98 424.64,181.62 425.02,184.93 425.41,191.60 425.80,196.22 426.18,194.90 426.57,187.08 426.96,181.99 427.34,188.16 427.73,189.96 428.11,193.05 428.50,194.17 428.89,192.38 429.27,199.58 429.66,206.02 430.05,188.44 430.43,178.05 430.82,177.44 431.20,191.33 431.59,194.01 431.98,190.52 432.36,187.69 432.75,184.37 433.14,191.36 433.52,188.97 433.91,175.80 434.30,182.37 434.68,188.48 435.07,194.03 435.45,192.54 435.84,187.93 436.23,178.29 436.61,175.05 437.00,181.35 437.39,184.78 437.77,194.89 438.16,196.03 438.55,201.42 438.93,200.78 439.32,205.77 439.70,203.07 440.09,197.18 440.48,186.43 440.86,186.96 441.25,193.15 441.64,189.82 442.02,211.97 442.41,252.35 442.79,228.63 443.18,210.34 443.56,191.19 443.94,188.41 444.32,198.98 444.71,184.01 445.09,183.83 445.47,183.03 445.86,192.66 446.24,208.52 446.62,197.78 447.01,189.18 447.39,186.45 447.77,188.58 448.16,193.22 448.54,199.81 448.92,200.70 449.31,180.10 449.69,186.31 450.07,192.73 450.46,194.35 450.84,185.84 451.22,188.19 451.61,180.30 451.99,189.41 452.37,199.04 452.76,202.15 453.14,193.67 453.52,201.71 453.90,206.99 454.29,196.07 454.67,175.65 455.05,162.24 455.44,178.92 455.82,189.07 456.20,195.31 456.59,188.49 456.97,184.55 457.35,191.33 457.74,192.89 458.12,191.96 458.50,185.81 458.89,188.20 459.27,193.24 459.65,196.85 460.04,196.68 460.42,193.98 460.80,187.48 461.19,183.13 461.57,177.64 461.95,185.59 462.34,184.71 462.72,196.65 463.10,212.17 463.48,195.38 463.87,185.66 464.25,180.25 464.63,182.94 465.02,172.31 465.40,185.60 465.78,201.80 466.17,213.64 466.55,246.62 466.93,213.30 467.32,203.83 467.70,200.15 468.08,188.60 468.46,191.15 468.85,183.20 469.23,168.12 469.61,181.00 469.99,197.89 470.38,210.12 470.76,218.52 471.14,200.14 471.52,193.70 471.91,189.39 472.29,178.81 472.67,188.03 473.06,195.15 473.44,186.54 473.82,189.76 474.20,182.48 474.59,199.42 474.97,192.00 475.35,185.10 475.73,181.58 476.12,190.96 476.50,188.76 476.88,191.62 477.26,190.97 477.65,181.19 478.03,195.61 478.41,208.11 478.79,186.80 479.18,181.45 479.56,161.87 479.94,159.75 480.32,191.69 480.71,187.78 481.09,185.60 481.47,181.12 481.86,194.68 482.24,204.19 482.62,191.14 483.00,171.88 483.39,187.42 483.77,191.39 484.15,188.37 484.53,189.89 484.92,186.83 485.30,175.38 485.68,175.52 486.06,186.44 486.45,194.17 486.83,204.37 487.21,206.54 487.59,200.90 487.98,211.73 488.36,209.46 488.74,192.13 489.13,187.75 489.51,191.86 489.89,196.13 490.27,201.25 490.66,220.96 491.04,243.37 491.42,210.61 491.81,202.41 492.19,193.78 492.58,196.89 492.96,190.48 493.35,184.01 493.73,179.53 494.12,172.30 494.50,188.75 494.88,215.83 495.27,203.80 495.65,193.41 496.04,191.15 496.42,186.41 496.81,185.84 497.19,190.99 497.58,205.14 497.96,194.78 498.35,183.28 498.73,177.52 499.11,189.62 499.50,186.34 499.88,182.25 500.27,182.36 500.65,180.71 501.04,186.67 501.42,195.42 501.81,193.75 502.19,188.47 502.58,202.51 502.96,212.40 503.34,204.83 503.73,193.09 504.11,177.28 504.50,162.64 504.88,192.14 505.27,191.24 505.65,186.96 506.04,192.16 506.42,197.86 506.81,198.23 507.19,188.59 507.57,181.97 507.96,180.85 508.34,181.67 508.73,191.67 509.11,190.05 509.50,190.36 509.88,189.76 510.27,187.41 510.65,180.67 511.04,183.78 511.42,187.41 511.80,200.21 512.19,203.28 512.57,204.67 512.96,207.11 513.34,196.66 513.73,187.61 514.11,188.90 514.50,192.78 514.88,203.13 515.27,210.80 515.65,228.96 516.03,232.83 516.42,198.15 516.80,200.52 517.18,196.77 517.56,192.64 517.95,189.66 518.33,180.18 518.71,175.46 519.09,184.40 519.48,200.07 519.86,213.49 520.24,208.11 520.62,196.32 521.00,196.45 521.39,187.86 521.77,184.01 522.15,192.43 522.53,199.93 522.92,193.64 523.30,186.82 523.68,185.45 524.06,189.48 524.44,193.84 524.83,188.62 525.21,187.60 525.59,191.70 525.97,195.48 526.36,199.59 526.74,196.78 527.12,199.40 527.50,204.87 527.89,209.79 528.27,198.95 528.65,186.91 529.03,170.82 529.41,163.71 529.80,184.69 530.18,184.39 530.56,186.02 530.94,187.57 531.33,196.19 531.71,200.68 532.09,180.05 532.47,190.70 532.85,193.81 533.24,190.56 533.62,192.69 534.00,191.26 534.38,189.67 534.77,186.36 535.15,181.84 535.53,178.10 535.91,185.81 536.30,195.87 536.68,199.94 537.06,201.64 537.44,209.25 537.82,197.87 538.21,187.37 538.59,177.81 538.97,185.53 539.35,189.76 539.74,191.23 540.12,209.58 540.50,229.83" fill="none" stroke="#ff7f0e" stroke-width="0.8" stroke-linejoin="round"/>
<polyline points="314.10,223.15 314.49,219.70 314.87,213.32 315.26,208.11 315.65,204.96 316.04,201.63 316.42,198.25 316.81,194.08 317.20,190.45 317.58,188.92 317.97,186.90 318.36,187.56 318.75,189.32 319.13,190.13 319.52,190.79 319.91,192.61 320.30,195.00 320.68,195.57 321.07,194.94 321.46,196.84 321.84,200.47 322.23,200.61 322.62,197.38 323.01,194.75 323.39,194.06 323.78,194.20 324.17,193.45 324.55,193.19 324.94,193.08 325.33,191.68 325.72,189.83 326.10,189.10 326.49,189.74 326.88,191.24 327.27,192.99 327.65,194.48 328.04,195.03 328.43,195.14 328.81,194.89 329.20,195.64 329.59,197.30 329.98,199.66 330.36,202.10 330.75,204.38 331.14,206.86 331.52,209.14 331.91,211.37 332.30,209.47 332.69,208.73 333.07,207.76 333.46,203.71 333.85,197.78 334.24,194.33 334.62,192.61 335.01,190.49 335.40,186.48 335.78,182.51 336.17,181.38 336.56,179.72 336.95,177.30 337.33,173.70 337.72,168.89 338.11,177.50 338.49,188.66 338.88,192.19 339.27,196.27 339.66,198.06 340.04,193.19 340.43,190.39 340.82,190.83 341.20,194.66 341.59,195.98 341.98,193.14 342.36,191.45 342.75,191.07 343.13,190.31 343.52,190.65 343.91,191.34 344.29,191.37 344.68,190.58 345.07,190.83 345.45,190.96 345.84,190.74 346.22,192.48 346.61,194.25 347.00,193.76 347.38,194.15 347.77,195.48 348.16,195.14 348.54,193.88 348.93,192.71 349.32,191.33 349.70,190.09 350.09,188.81 350.47,188.47 350.86,189.88 351.25,189.46 351.63,186.47 352.02,185.91 352.41,188.81 352.79,191.46 353.18,192.39 353.57,191.95 353.95,193.05 354.34,195.73 354.72,196.73 355.11,197.28 355.50,198.57 355.88,200.64 356.27,204.59 356.66,209.48 357.04,211.83 357.43,208.30 357.82,204.48 358.20,201.37 358.59,198.76 358.97,196.19 359.36,192.90 359.75,190.97 360.13,190.93 360.52,189.34 360.91,185.55 361.29,183.64 361.68,179.33 362.06,174.14 362.45,171.47 362.84,168.77 363.22,173.26 363.61,181.48 364.00,187.02 364.38,190.35 364.77,194.45 365.16,193.40 365.54,193.56 365.93,193.95 366.31,194.46 366.70,193.76 367.08,191.66 367.47,191.02 367.85,191.35 368.24,191.89 368.62,192.63 369.01,192.79 369.39,191.58 369.78,191.25 370.16,193.46 370.55,195.30 370.93,193.49 371.32,191.18 371.70,190.87 372.09,190.53 372.48,190.31 372.86,190.46 373.25,191.77 373.63,192.69 374.02,190.44 374.40,187.70 374.79,187.81 375.17,188.69 375.56,189.34 375.94,189.55 376.33,188.75 376.71,187.33 377.10,186.87 377.48,189.01 377.87,191.63 378.25,193.70 378.64,195.85 379.02,196.69 379.41,196.69 379.80,197.00 380.18,196.20 380.57,197.13 380.95,200.53 381.34,203.46 381.72,205.74 382.11,207.49 382.49,210.41 382.88,214.54 383.26,211.41 383.65,207.49 384.03,204.51 384.42,202.97 384.80,201.53 385.19,198.44 385.57,194.44 385.96,190.62 386.34,186.26 386.73,182.92 387.12,182.06 387.50,178.35 387.89,174.29 388.27,171.53 388.66,167.69 389.04,163.10 389.43,178.14 389.81,187.89 390.20,191.69 390.58,195.65 390.97,197.70 391.35,195.21 391.74,195.52 392.13,195.26 392.51,193.43 392.90,193.89 393.29,195.94 393.68,196.95 394.06,195.24 394.45,192.82 394.84,191.85 395.23,191.89 395.61,192.13 396.00,192.41 396.39,192.59 396.77,193.78 397.16,194.75 397.55,193.81 397.94,191.99 398.32,190.85 398.71,191.36 399.10,192.96 399.48,193.04 399.87,192.67 400.26,193.23 400.65,193.51 401.03,194.18 401.42,194.37 401.81,193.41 402.20,192.99 402.58,192.23 402.97,192.64 403.36,193.67 403.74,193.73 404.13,193.16 404.52,193.35 404.91,193.85 405.29,194.11 405.68,192.38 406.07,192.03 406.45,195.08 406.84,200.58 407.23,204.64 407.62,206.42 408.00,208.09 408.39,211.08 408.78,215.06 409.17,212.79 409.55,208.87 409.94,204.54 410.33,200.36 410.71,197.54 411.10,194.03 411.49,190.77 411.88,190.66 412.26,189.06 412.65,186.97 413.04,186.30 413.42,184.38 413.81,181.60 414.20,178.85 414.59,171.79 414.97,165.51 415.36,175.06 415.75,183.12 416.14,188.05 416.52,194.12 416.91,199.50 417.30,196.25 417.68,192.92 418.07,191.46 418.46,191.95 418.84,193.22 419.23,192.81 419.61,190.66 420.00,189.11 420.39,189.07 420.77,189.25 421.16,189.65 421.55,190.23 421.93,191.39 422.32,192.10 422.71,191.95 423.09,190.88 423.48,191.14 423.86,192.96 424.25,194.02 424.64,194.62 425.02,195.24 425.41,194.78 425.80,192.80 426.18,190.05 426.57,189.18 426.96,190.59 427.34,191.54 427.73,192.05 428.11,192.69 428.50,192.50 428.89,191.88 429.27,192.53 429.66,193.79 430.05,193.93 430.43,193.29 430.82,194.20 431.20,195.64 431.59,198.63 431.98,200.51 432.36,201.75 432.75,203.23 433.14,205.70 433.52,210.12 433.91,215.69 434.30,218.87 434.68,215.19 435.07,208.03 435.45,202.04 435.84,199.99 436.23,197.96 436.61,194.65 437.00,191.74 437.39,190.29 437.77,188.13 438.16,184.59 438.55,181.22 438.93,178.33 439.32,174.33 439.70,168.69 440.09,166.79 440.48,176.44 440.86,182.82 441.25,184.64 441.64,188.91 442.02,195.64 442.41,195.15 442.79,194.15 443.18,192.38 443.56,191.85 443.94,192.31 444.32,193.07 444.71,193.33 445.09,193.34 445.47,192.37 445.86,191.59 446.24,191.89 446.62,191.89 447.01,191.19 447.39,190.55 447.77,190.08 448.16,190.96 448.54,193.06 448.92,195.09 449.31,195.00 449.69,194.40 450.07,195.17 450.46,195.69 450.84,194.65 451.22,193.25 451.61,193.76 451.99,193.90 452.37,192.10 452.76,190.65 453.14,190.43 453.52,190.73 453.90,191.72 454.29,192.91 454.67,193.92 455.05,195.09 455.44,195.44 455.82,195.37 456.20,196.41 456.59,198.32 456.97,200.55 457.35,204.28 457.74,209.20 458.12,213.20 458.50,216.90 458.89,219.65 459.27,214.79 459.65,211.19 460.04,208.06 460.42,203.40 460.80,198.09 461.19,193.95 461.57,191.09 461.95,189.76 462.34,188.06 462.72,185.17 463.10,181.59 463.48,179.39 463.87,176.56 464.25,170.94 464.63,169.47 465.02,187.63 465.40,190.84 465.78,194.15 466.17,192.66 466.55,194.69 466.93,191.63 467.32,187.16 467.70,185.05 468.08,184.46 468.46,185.62 468.85,188.14 469.23,189.42 469.61,189.56 469.99,190.29 470.38,191.40 470.76,191.69 471.14,190.57 471.52,189.86 471.91,190.52 472.29,192.56 472.67,193.63 473.06,191.98 473.44,191.58 473.82,193.80 474.20,194.76 474.59,194.15 474.97,194.04 475.35,193.10 475.73,190.38 476.12,190.30 476.50,193.13 476.88,194.09 477.26,191.14 477.65,188.15 478.03,188.05 478.41,189.77 478.79,191.86 479.18,192.93 479.56,192.38 479.94,190.76 480.32,192.57 480.71,198.13 481.09,201.08 481.47,201.20 481.86,202.89 482.24,206.26 482.62,208.45 483.00,211.51 483.39,212.26 483.77,212.08 484.15,209.61 484.53,206.51 484.92,202.66 485.30,198.42 485.68,195.75 486.06,194.35 486.45,192.05 486.83,189.33 487.21,185.10 487.59,179.72 487.98,174.73 488.36,170.28 488.74,165.78 489.13,165.54 489.51,180.31 489.89,190.44 490.27,197.40 490.66,197.28 491.04,192.59 491.42,192.22 491.81,192.56 492.19,193.17 492.58,193.22 492.96,193.09 493.35,193.96 493.73,195.41 494.12,196.27 494.50,195.93 494.88,193.92 495.27,192.27 495.65,193.50 496.04,193.78 496.42,192.12 496.81,192.37 497.19,195.49 497.58,196.72 497.96,195.43 498.35,195.74 498.73,197.63 499.11,198.11 499.50,195.81 499.88,192.86 500.27,191.39 500.65,190.86 501.04,191.10 501.42,191.27 501.81,191.12 502.19,191.61 502.58,192.62 502.96,193.70 503.34,193.52 503.73,192.76 504.11,193.63 504.50,194.22 504.88,193.75 505.27,195.65 505.65,198.82 506.04,200.94 506.42,200.88 506.81,202.61 507.19,208.40 507.57,213.61 507.96,216.26 508.34,215.43 508.73,212.36 509.11,207.72 509.50,201.60 509.88,196.31 510.27,192.72 510.65,190.84 511.04,189.45 511.42,187.22 511.80,185.81 512.19,184.80 512.57,182.04 512.96,177.80 513.34,172.04 513.73,167.29 514.11,169.66 514.50,185.55 514.88,190.48 515.27,195.86 515.65,195.58 516.03,196.39 516.42,196.15 516.80,194.65 517.18,192.59 517.56,188.79 517.95,186.75 518.33,186.60 518.71,186.14 519.09,186.15 519.48,188.86 519.86,192.47 520.24,194.52 520.62,195.72 521.00,195.39 521.39,194.08 521.77,192.47 522.15,192.03 522.53,192.79 522.92,192.64 523.30,192.08 523.68,192.64 524.06,194.55 524.44,195.99 524.83,194.33 525.21,192.22 525.59,192.94 525.97,194.56 526.36,194.09 526.74,193.31 527.12,193.16 527.50,192.85 527.89,193.18 528.27,192.79 528.65,191.72 529.03,191.33 529.41,193.81 529.80,196.10 530.18,197.06 530.56,198.77 530.94,201.41 531.33,204.34 531.71,206.77 532.09,209.66 532.47,212.89 532.85,211.28 533.24,208.20 533.62,206.85 534.00,206.02 534.38,203.97 534.77,200.67 535.15,196.71 535.53,192.57 535.91,190.69 536.30,191.49 536.68,191.88 537.06,187.17 537.44,181.01 537.82,171.69 538.21,162.39 538.59,172.69 538.97,181.86 539.35,186.81 539.74,192.21 540.12,195.90 540.50,196.56" fill="none" stroke="#2ca02c" stroke-width="0.8" stroke-linejoin="round"/>
</g>
<rect x="314.1" y="152.3" width="226.40" height="90.10" fill="none" stroke="#9c9c9c" stroke-width="1.0"/>
<line x1="314.30" y1="152.80" x2="314.30" y2="241.90" stroke="#f42a2a" stroke-width="1.0" stroke-dasharray="2.2,1.2" opacity="0.35"/>
<line x1="340.04" y1="152.80" x2="340.04" y2="241.90" stroke="#f42a2a" stroke-width="1.0" stroke-dasharray="2.2,1.2" opacity="0.95"/>
<line x1="365.16" y1="152.80" x2="365.16" y2="241.90" stroke="#f42a2a" stroke-width="1.0" stroke-dasharray="2.2,1.2" opacity="0.95"/>
<line x1="391.35" y1="152.80" x2="391.35" y2="241.90" stroke="#f42a2a" stroke-width="1.0" stroke-dasharray="2.2,1.2" opacity="0.95"/>
<line x1="417.30" y1="152.80" x2="417.30" y2="241.90" stroke="#f42a2a" stroke-width="1.0" stroke-dasharray="2.2,1.2" opacity="0.95"/>
<line x1="442.41" y1="152.80" x2="442.41" y2="241.90" stroke="#f42a2a" stroke-width="1.0" stroke-dasharray="2.2,1.2" opacity="0.95"/>
<line x1="466.55" y1="152.80" x2="466.55" y2="241.90" stroke="#f42a2a" stroke-width="1.0" stroke-dasharray="2.2,1.2" opacity="0.95"/>
<line x1="491.04" y1="152.80" x2="491.04" y2="241.90" stroke="#f42a2a" stroke-width="1.0" stroke-dasharray="2.2,1.2" opacity="0.95"/>
<line x1="516.03" y1="152.80" x2="516.03" y2="241.90" stroke="#f42a2a" stroke-width="1.0" stroke-dasharray="2.2,1.2" opacity="0.95"/>
<line x1="540.20" y1="152.80" x2="540.20" y2="241.90" stroke="#f42a2a" stroke-width="1.0" stroke-dasharray="2.2,1.2" opacity="0.55"/>
<line x1="312.30" y1="158.96" x2="314.10" y2="158.96" stroke="#666" stroke-width="0.55"/>
<text x="297.10" y="162.26" font-size="8.6" text-anchor="start" textLength="13.80" lengthAdjust="spacingAndGlyphs">4000</text>
<line x1="312.30" y1="176.68" x2="314.10" y2="176.68" stroke="#666" stroke-width="0.55"/>
<text x="297.10" y="179.98" font-size="8.6" text-anchor="start" textLength="13.80" lengthAdjust="spacingAndGlyphs">2000</text>
<line x1="312.30" y1="194.40" x2="314.10" y2="194.40" stroke="#666" stroke-width="0.55"/>
<text x="307.45" y="197.70" font-size="8.6" text-anchor="start" textLength="3.45" lengthAdjust="spacingAndGlyphs">0</text>
<line x1="312.30" y1="212.12" x2="314.10" y2="212.12" stroke="#666" stroke-width="0.55"/>
<text x="292.60" y="215.42" font-size="8.6" text-anchor="start" textLength="18.30" lengthAdjust="spacingAndGlyphs">−2000</text>
<line x1="312.30" y1="229.84" x2="314.10" y2="229.84" stroke="#666" stroke-width="0.55"/>
<text x="292.60" y="233.14" font-size="8.6" text-anchor="start" textLength="18.30" lengthAdjust="spacingAndGlyphs">−4000</text>
<line x1="314.10" y1="242.40" x2="314.10" y2="244.20" stroke="#666" stroke-width="0.55"/>
<text x="312.38" y="251.30" font-size="8.6" text-anchor="start" textLength="3.45" lengthAdjust="spacingAndGlyphs">0</text>
<line x1="360.30" y1="242.40" x2="360.30" y2="244.20" stroke="#666" stroke-width="0.55"/>
<text x="358.58" y="251.30" font-size="8.6" text-anchor="start" textLength="3.45" lengthAdjust="spacingAndGlyphs">2</text>
<line x1="406.51" y1="242.40" x2="406.51" y2="244.20" stroke="#666" stroke-width="0.55"/>
<text x="404.78" y="251.30" font-size="8.6" text-anchor="start" textLength="3.45" lengthAdjust="spacingAndGlyphs">4</text>
<line x1="452.71" y1="242.40" x2="452.71" y2="244.20" stroke="#666" stroke-width="0.55"/>
<text x="450.99" y="251.30" font-size="8.6" text-anchor="start" textLength="3.45" lengthAdjust="spacingAndGlyphs">6</text>
<line x1="498.92" y1="242.40" x2="498.92" y2="244.20" stroke="#666" stroke-width="0.55"/>
<text x="497.19" y="251.30" font-size="8.6" text-anchor="start" textLength="3.45" lengthAdjust="spacingAndGlyphs">8</text>
<text x="400.5" y="150.0" font-size="10" text-anchor="start" textLength="53.5" lengthAdjust="spacingAndGlyphs">Angular Jerk</text>
<text x="412.5" y="261.0" font-size="9.0" text-anchor="start" textLength="29.5" lengthAdjust="spacingAndGlyphs">Time [s]</text>
<text transform="translate(289.4,235.6) rotate(-90)" font-size="9.2" textLength="76.2" lengthAdjust="spacingAndGlyphs" style="stroke-width:0.05px">Angular Jerk [rad/s<tspan font-size="70%" dy="-3">3</tspan><tspan dy="3">]</tspan></text>
<rect x="460.6" y="154.0" width="75.90" height="48.20" rx="1.8" fill="#fff" fill-opacity="0.8" stroke="#d0d0d0" stroke-width="0.7"/>
<line x1="462.9" y1="163.0" x2="478.6" y2="163.0" stroke="#1f77b4" stroke-width="0.9" opacity="0.85"/>
<text x="484.3" y="165.90" font-size="7.6" text-anchor="start" textLength="49" lengthAdjust="spacingAndGlyphs">Jerk_Gyro_X_5</text>
<line x1="462.9" y1="174.0" x2="478.6" y2="174.0" stroke="#ff7f0e" stroke-width="0.9" opacity="0.85"/>
<text x="484.3" y="176.90" font-size="7.6" text-anchor="start" textLength="49" lengthAdjust="spacingAndGlyphs">Jerk_Gyro_Y_5</text>
<line x1="462.9" y1="185.2" x2="478.6" y2="185.2" stroke="#2ca02c" stroke-width="0.9" opacity="0.85"/>
<text x="484.3" y="188.10" font-size="7.6" text-anchor="start" textLength="49" lengthAdjust="spacingAndGlyphs">Jerk_Gyro_Z_5</text>
<line x1="462.9" y1="196.4" x2="478.6" y2="196.4" stroke="#f42a2a" stroke-width="1.0" stroke-dasharray="2.2,1.2" opacity="0.95"/>
<text x="484.3" y="199.30" font-size="7.6" text-anchor="start" textLength="11.5" lengthAdjust="spacingAndGlyphs">HS</text>
</svg></body></html>
